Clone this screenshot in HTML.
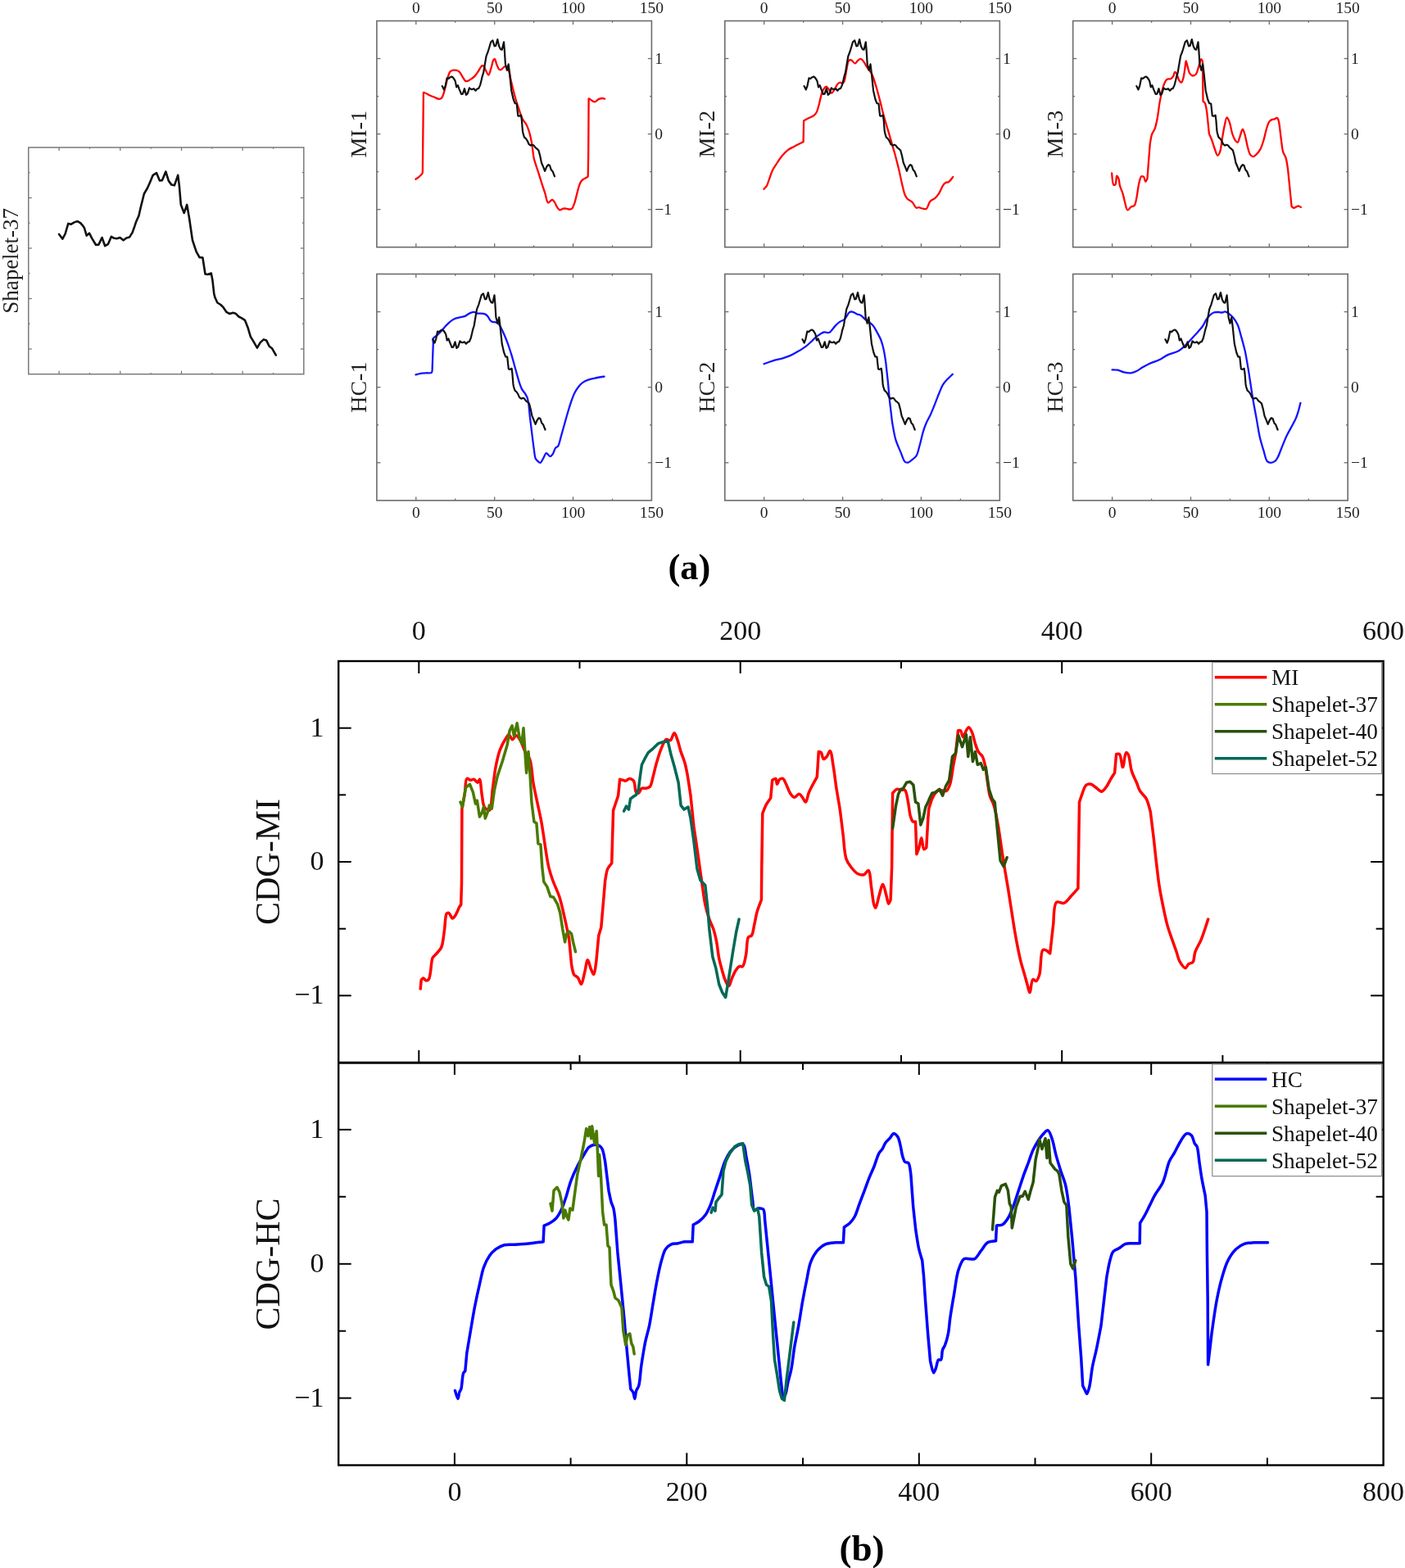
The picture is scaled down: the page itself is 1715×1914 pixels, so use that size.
<!DOCTYPE html>
<html><head><meta charset="utf-8"><title>Figure</title>
<style>html,body{margin:0;padding:0;background:#fff;}body{width:1715px;height:1914px;overflow:hidden;}svg{display:block;}</style>
</head><body>
<svg width="1715" height="1914" viewBox="0 0 1715 1914" font-family="'Liberation Serif', 'Times New Roman', serif">
<rect x="0" y="0" width="1715" height="1914" fill="#fff"/>
<line x1="72.1" y1="180" x2="72.1" y2="184" stroke="#6e6e6e" stroke-width="1.2"/>
<line x1="72.1" y1="456.7" x2="72.1" y2="452.7" stroke="#6e6e6e" stroke-width="1.2"/>
<line x1="109.5" y1="180" x2="109.5" y2="181.8" stroke="#6e6e6e" stroke-width="1.2"/>
<line x1="109.5" y1="456.7" x2="109.5" y2="454.9" stroke="#6e6e6e" stroke-width="1.2"/>
<line x1="146.8" y1="180" x2="146.8" y2="184" stroke="#6e6e6e" stroke-width="1.2"/>
<line x1="146.8" y1="456.7" x2="146.8" y2="452.7" stroke="#6e6e6e" stroke-width="1.2"/>
<line x1="184.1" y1="180" x2="184.1" y2="181.8" stroke="#6e6e6e" stroke-width="1.2"/>
<line x1="184.1" y1="456.7" x2="184.1" y2="454.9" stroke="#6e6e6e" stroke-width="1.2"/>
<line x1="221.5" y1="180" x2="221.5" y2="184" stroke="#6e6e6e" stroke-width="1.2"/>
<line x1="221.5" y1="456.7" x2="221.5" y2="452.7" stroke="#6e6e6e" stroke-width="1.2"/>
<line x1="258.8" y1="180" x2="258.8" y2="181.8" stroke="#6e6e6e" stroke-width="1.2"/>
<line x1="258.8" y1="456.7" x2="258.8" y2="454.9" stroke="#6e6e6e" stroke-width="1.2"/>
<line x1="296.1" y1="180" x2="296.1" y2="184" stroke="#6e6e6e" stroke-width="1.2"/>
<line x1="296.1" y1="456.7" x2="296.1" y2="452.7" stroke="#6e6e6e" stroke-width="1.2"/>
<line x1="333.5" y1="180" x2="333.5" y2="181.8" stroke="#6e6e6e" stroke-width="1.2"/>
<line x1="333.5" y1="456.7" x2="333.5" y2="454.9" stroke="#6e6e6e" stroke-width="1.2"/>
<line x1="34.8" y1="210.7" x2="36.6" y2="210.7" stroke="#6e6e6e" stroke-width="1.2"/>
<line x1="370.8" y1="210.7" x2="369" y2="210.7" stroke="#6e6e6e" stroke-width="1.2"/>
<line x1="34.8" y1="241.5" x2="38.8" y2="241.5" stroke="#6e6e6e" stroke-width="1.2"/>
<line x1="370.8" y1="241.5" x2="366.8" y2="241.5" stroke="#6e6e6e" stroke-width="1.2"/>
<line x1="34.8" y1="272.2" x2="36.6" y2="272.2" stroke="#6e6e6e" stroke-width="1.2"/>
<line x1="370.8" y1="272.2" x2="369" y2="272.2" stroke="#6e6e6e" stroke-width="1.2"/>
<line x1="34.8" y1="303" x2="38.8" y2="303" stroke="#6e6e6e" stroke-width="1.2"/>
<line x1="370.8" y1="303" x2="366.8" y2="303" stroke="#6e6e6e" stroke-width="1.2"/>
<line x1="34.8" y1="333.7" x2="36.6" y2="333.7" stroke="#6e6e6e" stroke-width="1.2"/>
<line x1="370.8" y1="333.7" x2="369" y2="333.7" stroke="#6e6e6e" stroke-width="1.2"/>
<line x1="34.8" y1="364.5" x2="38.8" y2="364.5" stroke="#6e6e6e" stroke-width="1.2"/>
<line x1="370.8" y1="364.5" x2="366.8" y2="364.5" stroke="#6e6e6e" stroke-width="1.2"/>
<line x1="34.8" y1="395.2" x2="36.6" y2="395.2" stroke="#6e6e6e" stroke-width="1.2"/>
<line x1="370.8" y1="395.2" x2="369" y2="395.2" stroke="#6e6e6e" stroke-width="1.2"/>
<line x1="34.8" y1="426" x2="38.8" y2="426" stroke="#6e6e6e" stroke-width="1.2"/>
<line x1="370.8" y1="426" x2="366.8" y2="426" stroke="#6e6e6e" stroke-width="1.2"/>
<rect x="34.8" y="180" width="336" height="276.7" fill="none" stroke="#7a7a7a" stroke-width="1.5"/>
<text x="21.8" y="318.4" font-size="27" text-anchor="middle" fill="#1e1e1e" font-weight="normal" transform="rotate(-90 21.8 318.4)">Shapelet-37</text>
<line x1="507.8" y1="25.5" x2="507.8" y2="30" stroke="#6c6c6c" stroke-width="1.3"/>
<line x1="507.8" y1="301.7" x2="507.8" y2="297.2" stroke="#6c6c6c" stroke-width="1.3"/>
<line x1="555.8" y1="25.5" x2="555.8" y2="27.8" stroke="#6c6c6c" stroke-width="1.3"/>
<line x1="555.8" y1="301.7" x2="555.8" y2="299.4" stroke="#6c6c6c" stroke-width="1.3"/>
<line x1="603.7" y1="25.5" x2="603.7" y2="30" stroke="#6c6c6c" stroke-width="1.3"/>
<line x1="603.7" y1="301.7" x2="603.7" y2="297.2" stroke="#6c6c6c" stroke-width="1.3"/>
<line x1="651.6" y1="25.5" x2="651.6" y2="27.8" stroke="#6c6c6c" stroke-width="1.3"/>
<line x1="651.6" y1="301.7" x2="651.6" y2="299.4" stroke="#6c6c6c" stroke-width="1.3"/>
<line x1="699.5" y1="25.5" x2="699.5" y2="30" stroke="#6c6c6c" stroke-width="1.3"/>
<line x1="699.5" y1="301.7" x2="699.5" y2="297.2" stroke="#6c6c6c" stroke-width="1.3"/>
<line x1="747.5" y1="25.5" x2="747.5" y2="27.8" stroke="#6c6c6c" stroke-width="1.3"/>
<line x1="747.5" y1="301.7" x2="747.5" y2="299.4" stroke="#6c6c6c" stroke-width="1.3"/>
<line x1="459.9" y1="255.7" x2="464.5" y2="255.7" stroke="#6c6c6c" stroke-width="1.3"/>
<line x1="795.4" y1="255.7" x2="790.8" y2="255.7" stroke="#6c6c6c" stroke-width="1.3"/>
<line x1="459.9" y1="209.6" x2="462.2" y2="209.6" stroke="#6c6c6c" stroke-width="1.3"/>
<line x1="795.4" y1="209.6" x2="793.1" y2="209.6" stroke="#6c6c6c" stroke-width="1.3"/>
<line x1="459.9" y1="163.6" x2="464.5" y2="163.6" stroke="#6c6c6c" stroke-width="1.3"/>
<line x1="795.4" y1="163.6" x2="790.8" y2="163.6" stroke="#6c6c6c" stroke-width="1.3"/>
<line x1="459.9" y1="117.6" x2="462.2" y2="117.6" stroke="#6c6c6c" stroke-width="1.3"/>
<line x1="795.4" y1="117.6" x2="793.1" y2="117.6" stroke="#6c6c6c" stroke-width="1.3"/>
<line x1="459.9" y1="71.5" x2="464.5" y2="71.5" stroke="#6c6c6c" stroke-width="1.3"/>
<line x1="795.4" y1="71.5" x2="790.8" y2="71.5" stroke="#6c6c6c" stroke-width="1.3"/>
<rect x="459.9" y="25.5" width="335.5" height="276.2" fill="none" stroke="#6c6c6c" stroke-width="1.6"/>
<text x="507.8" y="15.8" font-size="19.5" text-anchor="middle" fill="#1e1e1e" font-weight="normal">0</text>
<text x="603.7" y="15.8" font-size="19.5" text-anchor="middle" fill="#1e1e1e" font-weight="normal">50</text>
<text x="699.5" y="15.8" font-size="19.5" text-anchor="middle" fill="#1e1e1e" font-weight="normal">100</text>
<text x="795.4" y="15.8" font-size="19.5" text-anchor="middle" fill="#1e1e1e" font-weight="normal">150</text>
<text x="799.2" y="78.1" font-size="19.5" text-anchor="start" fill="#1e1e1e" font-weight="normal">1</text>
<text x="799.2" y="170.2" font-size="19.5" text-anchor="start" fill="#1e1e1e" font-weight="normal">0</text>
<text x="799.2" y="262.3" font-size="19.5" text-anchor="start" fill="#1e1e1e" font-weight="normal">−1</text>
<text x="447.3" y="163.6" font-size="28" text-anchor="middle" fill="#1e1e1e" font-weight="normal" transform="rotate(-90 447.3 163.6)">MI-1</text>
<line x1="932.7" y1="25.5" x2="932.7" y2="30" stroke="#6c6c6c" stroke-width="1.3"/>
<line x1="932.7" y1="301.7" x2="932.7" y2="297.2" stroke="#6c6c6c" stroke-width="1.3"/>
<line x1="980.7" y1="25.5" x2="980.7" y2="27.8" stroke="#6c6c6c" stroke-width="1.3"/>
<line x1="980.7" y1="301.7" x2="980.7" y2="299.4" stroke="#6c6c6c" stroke-width="1.3"/>
<line x1="1028.6" y1="25.5" x2="1028.6" y2="30" stroke="#6c6c6c" stroke-width="1.3"/>
<line x1="1028.6" y1="301.7" x2="1028.6" y2="297.2" stroke="#6c6c6c" stroke-width="1.3"/>
<line x1="1076.5" y1="25.5" x2="1076.5" y2="27.8" stroke="#6c6c6c" stroke-width="1.3"/>
<line x1="1076.5" y1="301.7" x2="1076.5" y2="299.4" stroke="#6c6c6c" stroke-width="1.3"/>
<line x1="1124.4" y1="25.5" x2="1124.4" y2="30" stroke="#6c6c6c" stroke-width="1.3"/>
<line x1="1124.4" y1="301.7" x2="1124.4" y2="297.2" stroke="#6c6c6c" stroke-width="1.3"/>
<line x1="1172.4" y1="25.5" x2="1172.4" y2="27.8" stroke="#6c6c6c" stroke-width="1.3"/>
<line x1="1172.4" y1="301.7" x2="1172.4" y2="299.4" stroke="#6c6c6c" stroke-width="1.3"/>
<line x1="884.8" y1="255.7" x2="889.4" y2="255.7" stroke="#6c6c6c" stroke-width="1.3"/>
<line x1="1220.3" y1="255.7" x2="1215.7" y2="255.7" stroke="#6c6c6c" stroke-width="1.3"/>
<line x1="884.8" y1="209.6" x2="887.1" y2="209.6" stroke="#6c6c6c" stroke-width="1.3"/>
<line x1="1220.3" y1="209.6" x2="1218" y2="209.6" stroke="#6c6c6c" stroke-width="1.3"/>
<line x1="884.8" y1="163.6" x2="889.4" y2="163.6" stroke="#6c6c6c" stroke-width="1.3"/>
<line x1="1220.3" y1="163.6" x2="1215.7" y2="163.6" stroke="#6c6c6c" stroke-width="1.3"/>
<line x1="884.8" y1="117.6" x2="887.1" y2="117.6" stroke="#6c6c6c" stroke-width="1.3"/>
<line x1="1220.3" y1="117.6" x2="1218" y2="117.6" stroke="#6c6c6c" stroke-width="1.3"/>
<line x1="884.8" y1="71.5" x2="889.4" y2="71.5" stroke="#6c6c6c" stroke-width="1.3"/>
<line x1="1220.3" y1="71.5" x2="1215.7" y2="71.5" stroke="#6c6c6c" stroke-width="1.3"/>
<rect x="884.8" y="25.5" width="335.5" height="276.2" fill="none" stroke="#6c6c6c" stroke-width="1.6"/>
<text x="932.7" y="15.8" font-size="19.5" text-anchor="middle" fill="#1e1e1e" font-weight="normal">0</text>
<text x="1028.6" y="15.8" font-size="19.5" text-anchor="middle" fill="#1e1e1e" font-weight="normal">50</text>
<text x="1124.4" y="15.8" font-size="19.5" text-anchor="middle" fill="#1e1e1e" font-weight="normal">100</text>
<text x="1220.3" y="15.8" font-size="19.5" text-anchor="middle" fill="#1e1e1e" font-weight="normal">150</text>
<text x="1224.1" y="78.1" font-size="19.5" text-anchor="start" fill="#1e1e1e" font-weight="normal">1</text>
<text x="1224.1" y="170.2" font-size="19.5" text-anchor="start" fill="#1e1e1e" font-weight="normal">0</text>
<text x="1224.1" y="262.3" font-size="19.5" text-anchor="start" fill="#1e1e1e" font-weight="normal">−1</text>
<text x="872.2" y="163.6" font-size="28" text-anchor="middle" fill="#1e1e1e" font-weight="normal" transform="rotate(-90 872.2 163.6)">MI-2</text>
<line x1="1357.6" y1="25.5" x2="1357.6" y2="30" stroke="#6c6c6c" stroke-width="1.3"/>
<line x1="1357.6" y1="301.7" x2="1357.6" y2="297.2" stroke="#6c6c6c" stroke-width="1.3"/>
<line x1="1405.6" y1="25.5" x2="1405.6" y2="27.8" stroke="#6c6c6c" stroke-width="1.3"/>
<line x1="1405.6" y1="301.7" x2="1405.6" y2="299.4" stroke="#6c6c6c" stroke-width="1.3"/>
<line x1="1453.5" y1="25.5" x2="1453.5" y2="30" stroke="#6c6c6c" stroke-width="1.3"/>
<line x1="1453.5" y1="301.7" x2="1453.5" y2="297.2" stroke="#6c6c6c" stroke-width="1.3"/>
<line x1="1501.4" y1="25.5" x2="1501.4" y2="27.8" stroke="#6c6c6c" stroke-width="1.3"/>
<line x1="1501.4" y1="301.7" x2="1501.4" y2="299.4" stroke="#6c6c6c" stroke-width="1.3"/>
<line x1="1549.3" y1="25.5" x2="1549.3" y2="30" stroke="#6c6c6c" stroke-width="1.3"/>
<line x1="1549.3" y1="301.7" x2="1549.3" y2="297.2" stroke="#6c6c6c" stroke-width="1.3"/>
<line x1="1597.3" y1="25.5" x2="1597.3" y2="27.8" stroke="#6c6c6c" stroke-width="1.3"/>
<line x1="1597.3" y1="301.7" x2="1597.3" y2="299.4" stroke="#6c6c6c" stroke-width="1.3"/>
<line x1="1309.7" y1="255.7" x2="1314.3" y2="255.7" stroke="#6c6c6c" stroke-width="1.3"/>
<line x1="1645.2" y1="255.7" x2="1640.6" y2="255.7" stroke="#6c6c6c" stroke-width="1.3"/>
<line x1="1309.7" y1="209.6" x2="1312" y2="209.6" stroke="#6c6c6c" stroke-width="1.3"/>
<line x1="1645.2" y1="209.6" x2="1642.9" y2="209.6" stroke="#6c6c6c" stroke-width="1.3"/>
<line x1="1309.7" y1="163.6" x2="1314.3" y2="163.6" stroke="#6c6c6c" stroke-width="1.3"/>
<line x1="1645.2" y1="163.6" x2="1640.6" y2="163.6" stroke="#6c6c6c" stroke-width="1.3"/>
<line x1="1309.7" y1="117.6" x2="1312" y2="117.6" stroke="#6c6c6c" stroke-width="1.3"/>
<line x1="1645.2" y1="117.6" x2="1642.9" y2="117.6" stroke="#6c6c6c" stroke-width="1.3"/>
<line x1="1309.7" y1="71.5" x2="1314.3" y2="71.5" stroke="#6c6c6c" stroke-width="1.3"/>
<line x1="1645.2" y1="71.5" x2="1640.6" y2="71.5" stroke="#6c6c6c" stroke-width="1.3"/>
<rect x="1309.7" y="25.5" width="335.5" height="276.2" fill="none" stroke="#6c6c6c" stroke-width="1.6"/>
<text x="1357.6" y="15.8" font-size="19.5" text-anchor="middle" fill="#1e1e1e" font-weight="normal">0</text>
<text x="1453.5" y="15.8" font-size="19.5" text-anchor="middle" fill="#1e1e1e" font-weight="normal">50</text>
<text x="1549.3" y="15.8" font-size="19.5" text-anchor="middle" fill="#1e1e1e" font-weight="normal">100</text>
<text x="1645.2" y="15.8" font-size="19.5" text-anchor="middle" fill="#1e1e1e" font-weight="normal">150</text>
<text x="1649" y="78.1" font-size="19.5" text-anchor="start" fill="#1e1e1e" font-weight="normal">1</text>
<text x="1649" y="170.2" font-size="19.5" text-anchor="start" fill="#1e1e1e" font-weight="normal">0</text>
<text x="1649" y="262.3" font-size="19.5" text-anchor="start" fill="#1e1e1e" font-weight="normal">−1</text>
<text x="1297.1" y="163.6" font-size="28" text-anchor="middle" fill="#1e1e1e" font-weight="normal" transform="rotate(-90 1297.1 163.6)">MI-3</text>
<line x1="507.8" y1="334.5" x2="507.8" y2="339" stroke="#6c6c6c" stroke-width="1.3"/>
<line x1="507.8" y1="610.9" x2="507.8" y2="606.4" stroke="#6c6c6c" stroke-width="1.3"/>
<line x1="555.8" y1="334.5" x2="555.8" y2="336.8" stroke="#6c6c6c" stroke-width="1.3"/>
<line x1="555.8" y1="610.9" x2="555.8" y2="608.6" stroke="#6c6c6c" stroke-width="1.3"/>
<line x1="603.7" y1="334.5" x2="603.7" y2="339" stroke="#6c6c6c" stroke-width="1.3"/>
<line x1="603.7" y1="610.9" x2="603.7" y2="606.4" stroke="#6c6c6c" stroke-width="1.3"/>
<line x1="651.6" y1="334.5" x2="651.6" y2="336.8" stroke="#6c6c6c" stroke-width="1.3"/>
<line x1="651.6" y1="610.9" x2="651.6" y2="608.6" stroke="#6c6c6c" stroke-width="1.3"/>
<line x1="699.5" y1="334.5" x2="699.5" y2="339" stroke="#6c6c6c" stroke-width="1.3"/>
<line x1="699.5" y1="610.9" x2="699.5" y2="606.4" stroke="#6c6c6c" stroke-width="1.3"/>
<line x1="747.5" y1="334.5" x2="747.5" y2="336.8" stroke="#6c6c6c" stroke-width="1.3"/>
<line x1="747.5" y1="610.9" x2="747.5" y2="608.6" stroke="#6c6c6c" stroke-width="1.3"/>
<line x1="459.9" y1="564.8" x2="464.5" y2="564.8" stroke="#6c6c6c" stroke-width="1.3"/>
<line x1="795.4" y1="564.8" x2="790.8" y2="564.8" stroke="#6c6c6c" stroke-width="1.3"/>
<line x1="459.9" y1="518.8" x2="462.2" y2="518.8" stroke="#6c6c6c" stroke-width="1.3"/>
<line x1="795.4" y1="518.8" x2="793.1" y2="518.8" stroke="#6c6c6c" stroke-width="1.3"/>
<line x1="459.9" y1="472.7" x2="464.5" y2="472.7" stroke="#6c6c6c" stroke-width="1.3"/>
<line x1="795.4" y1="472.7" x2="790.8" y2="472.7" stroke="#6c6c6c" stroke-width="1.3"/>
<line x1="459.9" y1="426.6" x2="462.2" y2="426.6" stroke="#6c6c6c" stroke-width="1.3"/>
<line x1="795.4" y1="426.6" x2="793.1" y2="426.6" stroke="#6c6c6c" stroke-width="1.3"/>
<line x1="459.9" y1="380.6" x2="464.5" y2="380.6" stroke="#6c6c6c" stroke-width="1.3"/>
<line x1="795.4" y1="380.6" x2="790.8" y2="380.6" stroke="#6c6c6c" stroke-width="1.3"/>
<rect x="459.9" y="334.5" width="335.5" height="276.4" fill="none" stroke="#6c6c6c" stroke-width="1.6"/>
<text x="507.8" y="632.2" font-size="19.5" text-anchor="middle" fill="#1e1e1e" font-weight="normal">0</text>
<text x="603.7" y="632.2" font-size="19.5" text-anchor="middle" fill="#1e1e1e" font-weight="normal">50</text>
<text x="699.5" y="632.2" font-size="19.5" text-anchor="middle" fill="#1e1e1e" font-weight="normal">100</text>
<text x="795.4" y="632.2" font-size="19.5" text-anchor="middle" fill="#1e1e1e" font-weight="normal">150</text>
<text x="799.2" y="387.2" font-size="19.5" text-anchor="start" fill="#1e1e1e" font-weight="normal">1</text>
<text x="799.2" y="479.3" font-size="19.5" text-anchor="start" fill="#1e1e1e" font-weight="normal">0</text>
<text x="799.2" y="571.4" font-size="19.5" text-anchor="start" fill="#1e1e1e" font-weight="normal">−1</text>
<text x="447.3" y="472.7" font-size="28" text-anchor="middle" fill="#1e1e1e" font-weight="normal" transform="rotate(-90 447.3 472.7)">HC-1</text>
<line x1="932.7" y1="334.5" x2="932.7" y2="339" stroke="#6c6c6c" stroke-width="1.3"/>
<line x1="932.7" y1="610.9" x2="932.7" y2="606.4" stroke="#6c6c6c" stroke-width="1.3"/>
<line x1="980.7" y1="334.5" x2="980.7" y2="336.8" stroke="#6c6c6c" stroke-width="1.3"/>
<line x1="980.7" y1="610.9" x2="980.7" y2="608.6" stroke="#6c6c6c" stroke-width="1.3"/>
<line x1="1028.6" y1="334.5" x2="1028.6" y2="339" stroke="#6c6c6c" stroke-width="1.3"/>
<line x1="1028.6" y1="610.9" x2="1028.6" y2="606.4" stroke="#6c6c6c" stroke-width="1.3"/>
<line x1="1076.5" y1="334.5" x2="1076.5" y2="336.8" stroke="#6c6c6c" stroke-width="1.3"/>
<line x1="1076.5" y1="610.9" x2="1076.5" y2="608.6" stroke="#6c6c6c" stroke-width="1.3"/>
<line x1="1124.4" y1="334.5" x2="1124.4" y2="339" stroke="#6c6c6c" stroke-width="1.3"/>
<line x1="1124.4" y1="610.9" x2="1124.4" y2="606.4" stroke="#6c6c6c" stroke-width="1.3"/>
<line x1="1172.4" y1="334.5" x2="1172.4" y2="336.8" stroke="#6c6c6c" stroke-width="1.3"/>
<line x1="1172.4" y1="610.9" x2="1172.4" y2="608.6" stroke="#6c6c6c" stroke-width="1.3"/>
<line x1="884.8" y1="564.8" x2="889.4" y2="564.8" stroke="#6c6c6c" stroke-width="1.3"/>
<line x1="1220.3" y1="564.8" x2="1215.7" y2="564.8" stroke="#6c6c6c" stroke-width="1.3"/>
<line x1="884.8" y1="518.8" x2="887.1" y2="518.8" stroke="#6c6c6c" stroke-width="1.3"/>
<line x1="1220.3" y1="518.8" x2="1218" y2="518.8" stroke="#6c6c6c" stroke-width="1.3"/>
<line x1="884.8" y1="472.7" x2="889.4" y2="472.7" stroke="#6c6c6c" stroke-width="1.3"/>
<line x1="1220.3" y1="472.7" x2="1215.7" y2="472.7" stroke="#6c6c6c" stroke-width="1.3"/>
<line x1="884.8" y1="426.6" x2="887.1" y2="426.6" stroke="#6c6c6c" stroke-width="1.3"/>
<line x1="1220.3" y1="426.6" x2="1218" y2="426.6" stroke="#6c6c6c" stroke-width="1.3"/>
<line x1="884.8" y1="380.6" x2="889.4" y2="380.6" stroke="#6c6c6c" stroke-width="1.3"/>
<line x1="1220.3" y1="380.6" x2="1215.7" y2="380.6" stroke="#6c6c6c" stroke-width="1.3"/>
<rect x="884.8" y="334.5" width="335.5" height="276.4" fill="none" stroke="#6c6c6c" stroke-width="1.6"/>
<text x="932.7" y="632.2" font-size="19.5" text-anchor="middle" fill="#1e1e1e" font-weight="normal">0</text>
<text x="1028.6" y="632.2" font-size="19.5" text-anchor="middle" fill="#1e1e1e" font-weight="normal">50</text>
<text x="1124.4" y="632.2" font-size="19.5" text-anchor="middle" fill="#1e1e1e" font-weight="normal">100</text>
<text x="1220.3" y="632.2" font-size="19.5" text-anchor="middle" fill="#1e1e1e" font-weight="normal">150</text>
<text x="1224.1" y="387.2" font-size="19.5" text-anchor="start" fill="#1e1e1e" font-weight="normal">1</text>
<text x="1224.1" y="479.3" font-size="19.5" text-anchor="start" fill="#1e1e1e" font-weight="normal">0</text>
<text x="1224.1" y="571.4" font-size="19.5" text-anchor="start" fill="#1e1e1e" font-weight="normal">−1</text>
<text x="872.2" y="472.7" font-size="28" text-anchor="middle" fill="#1e1e1e" font-weight="normal" transform="rotate(-90 872.2 472.7)">HC-2</text>
<line x1="1357.6" y1="334.5" x2="1357.6" y2="339" stroke="#6c6c6c" stroke-width="1.3"/>
<line x1="1357.6" y1="610.9" x2="1357.6" y2="606.4" stroke="#6c6c6c" stroke-width="1.3"/>
<line x1="1405.6" y1="334.5" x2="1405.6" y2="336.8" stroke="#6c6c6c" stroke-width="1.3"/>
<line x1="1405.6" y1="610.9" x2="1405.6" y2="608.6" stroke="#6c6c6c" stroke-width="1.3"/>
<line x1="1453.5" y1="334.5" x2="1453.5" y2="339" stroke="#6c6c6c" stroke-width="1.3"/>
<line x1="1453.5" y1="610.9" x2="1453.5" y2="606.4" stroke="#6c6c6c" stroke-width="1.3"/>
<line x1="1501.4" y1="334.5" x2="1501.4" y2="336.8" stroke="#6c6c6c" stroke-width="1.3"/>
<line x1="1501.4" y1="610.9" x2="1501.4" y2="608.6" stroke="#6c6c6c" stroke-width="1.3"/>
<line x1="1549.3" y1="334.5" x2="1549.3" y2="339" stroke="#6c6c6c" stroke-width="1.3"/>
<line x1="1549.3" y1="610.9" x2="1549.3" y2="606.4" stroke="#6c6c6c" stroke-width="1.3"/>
<line x1="1597.3" y1="334.5" x2="1597.3" y2="336.8" stroke="#6c6c6c" stroke-width="1.3"/>
<line x1="1597.3" y1="610.9" x2="1597.3" y2="608.6" stroke="#6c6c6c" stroke-width="1.3"/>
<line x1="1309.7" y1="564.8" x2="1314.3" y2="564.8" stroke="#6c6c6c" stroke-width="1.3"/>
<line x1="1645.2" y1="564.8" x2="1640.6" y2="564.8" stroke="#6c6c6c" stroke-width="1.3"/>
<line x1="1309.7" y1="518.8" x2="1312" y2="518.8" stroke="#6c6c6c" stroke-width="1.3"/>
<line x1="1645.2" y1="518.8" x2="1642.9" y2="518.8" stroke="#6c6c6c" stroke-width="1.3"/>
<line x1="1309.7" y1="472.7" x2="1314.3" y2="472.7" stroke="#6c6c6c" stroke-width="1.3"/>
<line x1="1645.2" y1="472.7" x2="1640.6" y2="472.7" stroke="#6c6c6c" stroke-width="1.3"/>
<line x1="1309.7" y1="426.6" x2="1312" y2="426.6" stroke="#6c6c6c" stroke-width="1.3"/>
<line x1="1645.2" y1="426.6" x2="1642.9" y2="426.6" stroke="#6c6c6c" stroke-width="1.3"/>
<line x1="1309.7" y1="380.6" x2="1314.3" y2="380.6" stroke="#6c6c6c" stroke-width="1.3"/>
<line x1="1645.2" y1="380.6" x2="1640.6" y2="380.6" stroke="#6c6c6c" stroke-width="1.3"/>
<rect x="1309.7" y="334.5" width="335.5" height="276.4" fill="none" stroke="#6c6c6c" stroke-width="1.6"/>
<text x="1357.6" y="632.2" font-size="19.5" text-anchor="middle" fill="#1e1e1e" font-weight="normal">0</text>
<text x="1453.5" y="632.2" font-size="19.5" text-anchor="middle" fill="#1e1e1e" font-weight="normal">50</text>
<text x="1549.3" y="632.2" font-size="19.5" text-anchor="middle" fill="#1e1e1e" font-weight="normal">100</text>
<text x="1645.2" y="632.2" font-size="19.5" text-anchor="middle" fill="#1e1e1e" font-weight="normal">150</text>
<text x="1649" y="387.2" font-size="19.5" text-anchor="start" fill="#1e1e1e" font-weight="normal">1</text>
<text x="1649" y="479.3" font-size="19.5" text-anchor="start" fill="#1e1e1e" font-weight="normal">0</text>
<text x="1649" y="571.4" font-size="19.5" text-anchor="start" fill="#1e1e1e" font-weight="normal">−1</text>
<text x="1297.1" y="472.7" font-size="28" text-anchor="middle" fill="#1e1e1e" font-weight="normal" transform="rotate(-90 1297.1 472.7)">HC-3</text>
<polyline points="72.1,285.9 76.3,291.6 79.6,285.5 83.3,272.9 86.9,273.7 90.2,271.6 93.5,270.4 95.1,270.4 98.4,272.4 101.6,276.1 102.9,278.2 105.7,287.6 109,284.7 112.2,290.8 117.1,299 120.4,298.6 124.5,290 128.2,300.2 131.8,298.2 135.9,288.8 138.4,290.4 142.4,291.2 146.5,290 150.6,293.3 154.3,290.4 158,289.6 161.6,283.9 164.5,275.7 166.1,270.8 169.4,263.5 171.8,252.9 175.9,236.5 180,229.5 183.1,222.4 186.7,213.8 191,211.1 194.9,220.5 198,220.1 202.3,209.5 205.9,220.9 209.4,225.6 212.9,226.3 217.2,213.8 218.8,226.3 220.8,249.9 224.7,260 228.2,249.9 230.9,265.5 234.9,293 239.6,307.1 243.5,314.1 247.4,314.5 250.5,334.5 253.4,335 257.8,333.5 259.4,341.9 261.3,358.9 262.5,363.3 265.4,369.5 269.4,372 272.6,375.2 276.3,380.8 280.4,383 284.5,381.8 287.6,382.7 291.4,386.5 295.1,388.3 298.9,390.8 302.7,400.3 305.8,410.9 309.6,417.2 313.9,424.7 317.7,418.1 321.8,414.4 325.2,415.6 328.7,422.8 332.1,425.3 336.8,433.5" fill="none" stroke="#111" stroke-width="2.6" stroke-linejoin="round" stroke-linecap="round"/>
<path d="M507.4,218.7 C508,218.3 509.7,217.3 510.9,216.3 C512.4,215.1 514.6,213.3 515.4,211.8 C515.9,210.8 515.8,209.3 515.9,208.8 L516.9,113 C517.1,113 517.4,112.9 517.9,113 C519.2,113.3 522.7,115.5 524.8,116.5 C526.6,117.3 528,117.8 529.8,118.5 C531.8,119.3 534.5,121 536.2,120.9 C537.4,120.8 538.4,120.3 539.2,119.4 C540.4,118.2 540.9,115.8 541.7,113.5 C542.8,110.3 543.7,105.3 544.7,101.6 C545.6,98.4 546.2,95.2 547.2,92.6 C548,90.5 548.5,88.3 549.7,87.2 C550.7,86.2 552.2,85.9 553.6,85.7 C555.1,85.5 557.2,85.6 558.6,86.2 C559.8,86.7 560.7,87.6 561.6,88.7 C562.7,90 563.4,91.9 564.5,93.6 C565.7,95.4 567.1,98.5 568.5,99.1 C569.5,99.5 570.5,99 571.5,98.6 C572.8,98.1 574.2,97 575.5,96.1 C576.8,95.2 578.2,94.3 579.4,93.1 C580.8,91.6 582.2,89.5 583.4,87.7 C584.5,86 585.5,84.1 586.4,82.7 C587.1,81.7 587.6,80.5 588.4,80.2 C589,80 589.8,80.2 590.4,80.7 C591.3,81.4 591.6,83.2 592.4,84.7 C593.5,86.7 595.2,91.7 596.3,91.6 C597.5,91.5 598.4,86.5 599.3,83.7 C600.4,80.5 601.2,75.1 602.3,73.3 C602.8,72.5 603.3,71.7 603.8,71.8 C604.7,72 605.4,76.5 606.3,78.7 C607.2,80.8 608.1,83.8 609.2,84.7 C609.8,85.2 610.4,85.4 611.2,85.2 C612.6,84.9 614.8,81.5 616.2,81.2 C617,81 617.6,81.2 618.2,81.7 C619.3,82.5 620.4,84.7 621.2,86.7 C622.2,89.2 622.4,92.3 623.1,95.6 C624,99.6 625.1,104.5 626.2,108.9 C627.3,113.3 628.6,118 629.8,122.2 C630.9,126 632,129.2 633.3,132.9 C634.7,136.9 636.1,142 637.8,145.3 C639.1,147.8 640.9,149.2 642.2,151.5 C643.6,154.1 644.8,157.3 645.8,160.4 C646.9,163.8 647.7,167.5 648.4,171.1 C649.1,174.8 649.7,178.9 650.2,182.6 C650.7,186 650.9,189.3 651.5,192.4 C652.1,195.2 652.9,197.6 653.8,200.4 C654.8,203.7 656.1,207.2 657.3,211 C658.7,215.4 660.4,220.9 661.8,225.3 C663,229.1 664.1,232.3 665.3,235.9 C666.5,239.7 667.4,247 668.9,247.5 C669.7,247.8 670.6,246.3 671.5,245.7 C672.4,245.1 673.3,243.8 674.2,243.9 C675.1,244 676.1,245.5 676.9,246.6 C677.9,248 678.5,250.3 679.5,251.9 C680.5,253.5 681.7,255.9 683.1,256.3 C684.4,256.6 686.1,254.9 687.5,254.6 C688.7,254.4 689.8,254.5 691.1,254.6 C692.5,254.7 694.2,255.6 695.5,255.5 C696.5,255.4 697.4,255.3 698.2,254.6 C699.3,253.6 700,251.4 700.8,249.2 C702.1,245.8 703.3,240 704.4,235.9 C705.4,232.4 706.1,228.8 707.1,226.1 C707.9,224 708.6,222.2 709.7,220.8 C710.7,219.6 712,219 713.3,218.1 C714.7,217.2 717,215.9 717.7,215.5 L718.2,188.8 L718.6,120.4 C718.9,120.5 719.7,120.9 720.4,121.3 C721.7,122 723.9,124.4 725.7,124.4 C727.5,124.4 729.2,121.6 731,120.9 C732.5,120.3 734.2,120 735.5,120 C736.5,120 737.7,120.5 738.1,120.6" fill="none" stroke="#ff0000" stroke-width="2.3" stroke-linejoin="round" stroke-linecap="round"/>
<polyline points="539.8,105.1 542,109.4 543.7,104.8 545.6,95.4 547.5,96 549.2,94.5 550.9,93.6 551.7,93.6 553.4,95.1 555.1,97.8 555.8,99.4 557.2,106.4 558.9,104.2 560.6,108.8 563.1,114.9 564.8,114.6 567,108.2 568.9,115.8 570.7,114.3 572.9,107.3 574.2,108.5 576.2,109.1 578.4,108.2 580.5,110.7 582.4,108.5 584.3,107.9 586.2,103.6 587.7,97.5 588.5,93.9 590.2,88.4 591.5,80.5 593.6,68.3 595.7,63 597.3,57.7 599.2,51.3 601.4,49.3 603.5,56.3 605.1,56 607.3,48.1 609.2,56.6 611,60.1 612.8,60.6 615,51.3 615.8,60.6 616.9,78.3 618.9,85.8 620.7,78.3 622.1,89.9 624.2,110.4 626.6,121 628.6,126.2 630.7,126.5 632.3,141.4 633.8,141.8 636.1,140.7 636.9,146.9 637.9,159.6 638.5,162.9 640,167.6 642.1,169.4 643.7,171.8 645.6,176 647.8,177.6 649.9,176.7 651.5,177.4 653.5,180.2 655.4,181.6 657.4,183.5 659.3,190.5 660.9,198.5 662.9,203.2 665.1,208.8 667.1,203.8 669.2,201.1 671,202 672.8,207.3 674.6,209.2 677,215.3" fill="none" stroke="#111" stroke-width="2.2" stroke-linejoin="round" stroke-linecap="round"/>
<path d="M507.5,457.4 C508.3,457.2 510.6,456.4 512.5,456.1 C514.8,455.7 517.7,455.5 520.1,455.3 C522.4,455.1 525.5,455.8 526.7,454.9 C527.5,454.3 527.5,452.4 527.6,451.9 L528.8,418.5 C528.8,417.6 528.1,414.6 528.8,413.1 C529.5,411.5 531.8,410.7 533.4,409.3 C535.3,407.6 537.5,405.4 539.3,403.5 C540.9,401.8 542.1,400 543.5,398.4 C544.8,396.9 546.2,395.6 547.6,394.3 C549,393.1 550.3,391.9 551.8,390.9 C553.3,389.9 555.1,389 556.8,388.4 C558.5,387.8 560.1,387.6 561.9,387.2 C563.8,386.8 566.1,386.6 567.7,385.9 C569,385.4 569.9,384.5 571,383.8 C572.1,383.1 573.2,382.4 574.4,381.9 C575.7,381.4 577.2,380.8 578.6,380.9 C580,381 581.3,382.3 582.7,382.6 C584.1,382.9 585.4,382.5 586.9,382.6 C588.5,382.7 590.5,382.8 591.9,383.4 C593.2,384 594.3,384.8 595.3,385.9 C596.6,387.3 597.4,390.1 598.6,391.3 C599.4,392.1 600.1,392.6 601.1,393 C602.3,393.4 604,393 605.3,393.4 C606.5,393.8 607.7,394.5 608.7,395.5 C610,396.8 610.9,398.9 612,401 C613.4,403.6 614.8,407 616.2,410.2 C617.7,413.6 619.1,417.2 620.4,421 C621.8,425 623.1,429.1 624.5,433.6 C626.1,438.8 627.6,444.9 629.2,450.5 C630.8,456 632.4,462.4 633.9,466.9 C635,470.1 635.8,472.7 637.1,475.1 C638.3,477.3 640.1,478.9 641.2,480.8 C642.2,482.5 643,483.9 643.7,485.7 C644.5,487.9 645,491.9 645.3,493.1 L646.9,509.4 L649.4,529.8 C649.8,532.9 651,543.2 651.8,548.6 C652.4,552.6 652.5,556.8 653.5,559.2 C654.1,560.7 654.9,561.5 655.9,562.4 C656.9,563.4 658.5,565.1 659.6,564.9 C661,564.6 662.1,561.1 663.3,559.2 C664.5,557.2 665.5,553.3 666.9,553.1 C668.2,552.9 670,557.1 671.4,557.1 C672.6,557.1 673.7,555.6 674.7,554.3 C676,552.5 676.7,548.6 678,546.9 C678.9,545.7 680.3,545.8 681.2,544.5 C682.7,542.3 683.4,537.7 684.5,533.9 C685.8,529.4 687.2,524.3 688.6,519.2 C690.2,513.7 691.9,507.3 693.5,502 C694.9,497.4 696.2,493 697.6,489 C698.9,485.5 700.1,482.1 701.6,479.2 C702.9,476.7 704.1,474.7 705.7,472.7 C707.3,470.6 709.3,468.4 711.4,466.9 C713.4,465.5 715.6,464.6 718,463.7 C720.5,462.8 723.1,462.2 726.1,461.6 C729.6,460.8 735.7,459.9 737.6,459.6" fill="none" stroke="#1414ff" stroke-width="2.3" stroke-linejoin="round" stroke-linecap="round"/>
<polyline points="528.3,414.2 530.5,418.5 532.2,413.9 534.1,404.5 536,405.1 537.7,403.5 539.4,402.6 540.2,402.6 541.9,404.1 543.6,406.9 544.3,408.4 545.7,415.5 547.4,413.3 549.1,417.9 551.6,424 553.3,423.7 555.5,417.3 557.4,424.9 559.2,423.4 561.4,416.4 562.7,417.6 564.7,418.2 566.9,417.3 569,419.7 570.9,417.6 572.8,417 574.7,412.7 576.2,406.6 577,402.9 578.7,397.5 580,389.5 582.1,377.3 584.2,372.1 585.8,366.8 587.7,360.3 589.9,358.3 592,365.3 593.6,365 595.8,357.1 597.7,365.6 599.5,369.1 601.3,369.7 603.5,360.3 604.3,369.7 605.4,387.3 607.4,394.8 609.2,387.3 610.6,399 612.7,419.5 615.1,430 617.1,435.3 619.2,435.6 620.8,450.5 622.3,450.9 624.6,449.8 625.4,456 626.4,468.7 627,472 628.5,476.7 630.6,478.5 632.2,480.9 634.1,485.1 636.3,486.7 638.4,485.8 640,486.5 642,489.4 643.9,490.7 645.9,492.6 647.8,499.7 649.4,507.6 651.4,512.3 653.6,517.9 655.6,513 657.7,510.2 659.5,511.1 661.3,516.5 663.1,518.3 665.5,524.5" fill="none" stroke="#111" stroke-width="2.2" stroke-linejoin="round" stroke-linecap="round"/>
<path d="M932.4,230.8 C933,230.1 934.9,228.5 935.9,226.8 C937.2,224.7 937.8,221.7 938.9,218.9 C940.1,215.6 941.3,211.3 942.9,208 C944.3,205 946,202.8 947.8,200 C949.9,196.8 952.4,193 954.8,190.1 C957,187.5 959.2,185 961.7,183.1 C964.1,181.2 966.8,180.2 969.7,178.7 C973,176.9 978.8,174.1 980.6,173.2 L981.1,147.4 C981.7,147.1 983.2,146.2 984.6,145.4 C986.9,144.2 991.4,142.5 993.5,140.9 C994.9,139.8 995.6,139 996.5,137.5 C997.8,135.3 998.5,131.9 999.5,128.5 C1000.7,124.3 1001.8,117.7 1003,114.1 C1003.8,111.8 1004.4,110.2 1005.4,108.7 C1006.3,107.5 1007.4,105.7 1008.4,105.7 C1009.4,105.7 1010.4,107.5 1011.4,108.7 C1012.6,110.1 1013.7,113.5 1014.9,113.6 C1016,113.7 1017.2,111.3 1018.3,109.7 C1019.7,107.8 1020.9,104.2 1022.3,102.7 C1023.3,101.7 1024.3,100.8 1025.3,100.7 C1026.3,100.6 1027.5,101.9 1028.3,101.7 C1029.1,101.5 1029.7,100.8 1030.3,99.7 C1031.6,97.2 1032.2,90.2 1033.2,85.8 C1034.2,81.7 1034.5,75.4 1036.2,73.9 C1037,73.1 1038.2,73.1 1039.2,73.4 C1040.6,73.8 1042.3,77.5 1043.7,77.4 C1044.9,77.4 1045.9,74.8 1047.1,73.9 C1048.2,73 1049.5,71.8 1050.6,71.9 C1051.8,72 1052.9,73.6 1054,75 C1055.6,76.9 1057.2,80.4 1058.9,82.9 C1060.5,85.3 1062.4,87 1063.9,89.9 C1065.9,93.6 1067.3,98.8 1068.9,103.8 C1070.7,109.3 1072.2,115.5 1073.8,121.6 C1075.5,128 1077.1,135.2 1078.8,141.5 C1080.4,147.4 1082.1,152.8 1083.8,158.4 C1085.4,164 1087.2,169.9 1088.7,175.3 C1090.1,180.2 1091.3,184.1 1092.7,189.2 C1094.3,195.2 1096.2,202.6 1097.7,209 C1099.1,215.1 1100.3,221.7 1101.6,226.9 C1102.6,231 1103.4,234.9 1104.6,237.8 C1105.5,239.9 1106.2,241.4 1107.6,242.8 C1109.1,244.4 1111.8,245.1 1113.6,246.8 C1115.5,248.7 1116.8,253 1118.5,253.7 C1119.5,254.1 1120.4,253.1 1121.5,253.2 C1123,253.3 1124.9,254.5 1126.5,254.7 C1128,254.9 1129.6,255.5 1130.9,254.7 C1132.8,253.5 1133.4,248 1135.4,245.8 C1137.1,243.9 1139.6,243.4 1141.4,241.8 C1143.3,240.1 1144.8,238.1 1146.3,235.8 C1148.1,233 1149.7,228.2 1151.3,225.9 C1152.3,224.5 1153.1,223.6 1154.3,222.9 C1155.4,222.3 1156.9,222.7 1158.2,221.9 C1159.9,220.8 1162.4,217 1163.2,216" fill="none" stroke="#ff0000" stroke-width="2.3" stroke-linejoin="round" stroke-linecap="round"/>
<polyline points="981.6,105.1 983.8,109.4 985.5,104.8 987.4,95.4 989.3,96 991,94.5 992.7,93.6 993.5,93.6 995.2,95.1 996.9,97.8 997.6,99.4 999,106.4 1000.7,104.2 1002.4,108.8 1004.9,114.9 1006.6,114.6 1008.8,108.2 1010.7,115.8 1012.5,114.3 1014.7,107.3 1016,108.5 1018,109.1 1020.2,108.2 1022.3,110.7 1024.2,108.5 1026.1,107.9 1028,103.6 1029.5,97.5 1030.3,93.9 1032,88.4 1033.3,80.5 1035.4,68.3 1037.5,63 1039.1,57.7 1041,51.3 1043.2,49.3 1045.3,56.3 1046.9,56 1049.1,48.1 1051,56.6 1052.8,60.1 1054.6,60.6 1056.8,51.3 1057.6,60.6 1058.7,78.3 1060.7,85.8 1062.5,78.3 1063.9,89.9 1066,110.4 1068.4,121 1070.4,126.2 1072.5,126.5 1074.1,141.4 1075.6,141.8 1077.9,140.7 1078.7,146.9 1079.7,159.6 1080.3,162.9 1081.8,167.6 1083.9,169.4 1085.5,171.8 1087.4,176 1089.6,177.6 1091.7,176.7 1093.3,177.4 1095.3,180.2 1097.2,181.6 1099.2,183.5 1101.1,190.5 1102.7,198.5 1104.7,203.2 1106.9,208.8 1108.9,203.8 1111,201.1 1112.8,202 1114.6,207.3 1116.4,209.2 1118.8,215.3" fill="none" stroke="#111" stroke-width="2.2" stroke-linejoin="round" stroke-linecap="round"/>
<path d="M932.6,444.2 C934.3,443.6 939.2,441.7 942.8,440.6 C946.9,439.3 952.1,438.3 956.1,437.1 C959.4,436.1 962.1,435.2 965,433.9 C968,432.6 970.9,430.9 973.9,429.1 C977.1,427.2 980.7,425 983.6,422.8 C986.2,420.8 988.5,418.6 990.7,416.6 C992.7,414.8 994.2,412.8 996.1,411.3 C997.8,409.9 999.7,408.7 1001.4,407.7 C1002.9,406.8 1004.2,405.8 1005.8,405.5 C1007.7,405.1 1010.5,406.5 1012.1,406 C1013.3,405.6 1013.7,404.7 1014.7,403.7 C1016.2,402.1 1018.2,399 1020.1,397.1 C1021.8,395.4 1023.6,393.8 1025.4,392.6 C1027.1,391.5 1029.2,391.3 1030.7,390 C1032.2,388.7 1033.2,386.2 1034.3,384.6 C1035.2,383.3 1035.8,381.8 1036.9,381.1 C1037.9,380.5 1039.2,380.4 1040.5,380.6 C1042.1,380.9 1044.1,382.6 1045.8,383.3 C1047.4,383.9 1048.8,383.8 1050.4,384.7 C1052.5,385.9 1054.4,388.5 1056.7,390.4 C1059.3,392.5 1062.8,394.2 1065.1,396.7 C1067.3,399.1 1068.6,402.1 1070.3,405.1 C1072.1,408.3 1074.1,411.9 1075.5,415.5 C1076.9,419.2 1077.8,422.8 1078.7,427 C1079.8,431.8 1080.9,440.1 1081.3,442.7 L1083.9,466.7 L1086,489.7 L1089.1,515.8 C1089.8,519.3 1091.4,530.3 1093.3,536.7 C1095,542.4 1097.6,547.6 1099.6,552.4 C1101.4,556.6 1102.6,562.3 1104.8,563.9 C1106.1,564.8 1107.7,564.8 1109,564.4 C1110.5,564 1111.7,562.5 1113.1,561.3 C1114.8,559.9 1117,558.8 1118.4,556.6 C1120.4,553.6 1121.2,548.5 1122.5,544 C1124,538.8 1125.2,532.3 1126.7,527.3 C1128,523.1 1129.3,519.5 1130.9,515.8 C1132.5,512.2 1134.4,509.1 1136.1,505.4 C1137.9,501.4 1139.6,497.1 1141.3,492.8 C1143.1,488.4 1144.9,483.4 1146.6,479.3 C1148,475.9 1149.2,472.5 1150.8,469.9 C1152.1,467.8 1153.2,466.5 1154.9,464.6 C1157,462.2 1161.5,458.1 1162.8,456.8" fill="none" stroke="#1414ff" stroke-width="2.3" stroke-linejoin="round" stroke-linecap="round"/>
<polyline points="979.5,414.2 981.7,418.5 983.4,413.9 985.3,404.5 987.2,405.1 988.9,403.5 990.6,402.6 991.4,402.6 993.1,404.1 994.8,406.9 995.5,408.4 996.9,415.5 998.6,413.3 1000.3,417.9 1002.8,424 1004.5,423.7 1006.7,417.3 1008.6,424.9 1010.4,423.4 1012.6,416.4 1013.9,417.6 1015.9,418.2 1018.1,417.3 1020.2,419.7 1022.1,417.6 1024,417 1025.9,412.7 1027.4,406.6 1028.2,402.9 1029.9,397.5 1031.2,389.5 1033.3,377.3 1035.4,372.1 1037,366.8 1038.9,360.3 1041.1,358.3 1043.2,365.3 1044.8,365 1047,357.1 1048.9,365.6 1050.7,369.1 1052.5,369.7 1054.7,360.3 1055.5,369.7 1056.6,387.3 1058.6,394.8 1060.4,387.3 1061.8,399 1063.9,419.5 1066.3,430 1068.3,435.3 1070.4,435.6 1072,450.5 1073.5,450.9 1075.8,449.8 1076.6,456 1077.6,468.7 1078.2,472 1079.7,476.7 1081.8,478.5 1083.4,480.9 1085.3,485.1 1087.5,486.7 1089.6,485.8 1091.2,486.5 1093.2,489.4 1095.1,490.7 1097.1,492.6 1099,499.7 1100.6,507.6 1102.6,512.3 1104.8,517.9 1106.8,513 1108.9,510.2 1110.7,511.1 1112.5,516.5 1114.3,518.3 1116.7,524.5" fill="none" stroke="#111" stroke-width="2.2" stroke-linejoin="round" stroke-linecap="round"/>
<path d="M1357.1,211.4 C1357.5,213.8 1357.8,224.7 1359.3,225.7 C1359.9,226.1 1360.9,225.7 1361.5,225.1 C1362.8,223.7 1362.2,214.9 1363.2,214.7 C1363.8,214.6 1364.8,216.6 1365.4,218 C1366.3,220.2 1366.2,223.9 1367,226.8 C1367.8,229.8 1369.3,232.5 1370.3,235.6 C1371.4,239 1372,243 1373,246.5 C1374,249.9 1374.7,256 1376.3,256.4 C1377.5,256.7 1379.2,253.5 1380.7,252.6 C1382,251.8 1383.6,252 1384.6,250.9 C1385.9,249.5 1386.1,247.2 1386.8,244.3 C1388.1,239.2 1389.2,227.6 1390.6,222.4 C1391.4,219.3 1392,216 1393.3,215.3 C1394.1,214.9 1395.3,215.2 1396.1,215.8 C1397.2,216.8 1397.5,221.7 1398.3,221.8 C1399,221.9 1400.1,218.6 1400.5,218 L1401.6,202.6 L1403.8,175.2 C1404.2,173.4 1404.9,167.5 1406,164.2 C1407,161.4 1408.8,159.4 1409.8,156.6 C1411,153.3 1411.6,149.9 1412.5,145.6 C1413.7,139.5 1414.6,130 1415.8,123.6 C1416.7,118.7 1417.6,114.4 1418.6,110.5 C1419.4,107.3 1420.1,104.1 1421.3,101.7 C1422.2,99.7 1423.2,97.7 1424.6,96.8 C1425.8,96 1427.7,96.8 1429,96.2 C1430.3,95.6 1431.5,94.2 1432.3,92.9 C1433.2,91.5 1433.1,88.3 1433.9,88 C1434.5,87.8 1435.4,88.7 1436.1,89.6 C1437.2,91.1 1437.7,95.4 1438.9,97.3 C1439.8,98.8 1441.3,100.8 1442.2,100.6 C1443.2,100.4 1443.8,97.4 1444.4,95.1 C1445.4,91.7 1446,85.7 1446.6,81.9 C1447,79 1447.2,74.3 1447.7,74.3 C1448.2,74.3 1449.1,79.4 1449.8,81.9 C1450.5,84.3 1450.9,87.3 1452,89.1 C1452.9,90.5 1454,92.1 1455.3,92.4 C1456.6,92.7 1458.5,91.9 1459.7,90.7 C1461.4,89 1461.9,84.9 1463,81.9 C1464.1,78.7 1465.3,72.2 1466.3,72.1 C1466.9,72.1 1467.7,74.9 1468,75.4 L1468.5,123.6 C1468.9,124 1470.1,124.7 1470.8,125.9 C1472.1,128.2 1472.9,135.7 1473.3,137.6 L1475.9,163.5 C1476.5,164.8 1478.2,168.3 1479.2,171 C1480.4,174.1 1481.3,177.8 1482.5,181 C1483.7,184.1 1485,189.7 1486.3,189.8 C1487.3,189.9 1488.4,187.3 1489.2,185.2 C1490.5,181.7 1490.8,175.3 1491.7,170.2 C1492.6,164.8 1493.6,158.3 1494.7,153.5 C1495.6,149.7 1496.4,143.5 1497.6,143.4 C1498.5,143.3 1499.6,146.2 1500.5,148.4 C1502,152 1502.9,159.4 1504.3,163.5 C1505.3,166.5 1506.3,169.2 1507.6,171 C1508.5,172.3 1509.6,174.1 1510.5,173.9 C1511.7,173.7 1512.5,169.3 1513.5,166.8 C1514.6,163.9 1515.7,157.6 1516.8,157.6 C1517.7,157.6 1518.5,161 1519.3,163.5 C1520.5,167.3 1521.5,174 1522.7,178.5 C1523.7,182.2 1524.5,186.5 1526,188.6 C1526.9,189.9 1528.1,191 1529.3,191.1 C1530.6,191.2 1532.2,189.8 1533.5,188.6 C1535.3,187 1537.1,184.6 1538.5,181.9 C1540.2,178.6 1541.5,174.3 1542.7,170.2 C1544,165.9 1544.8,160.7 1546.1,156.8 C1547.1,153.6 1548,150.3 1549.4,148.4 C1550.4,147.1 1551.6,146.4 1552.7,145.9 C1553.6,145.5 1554.4,145.8 1555.3,145.5 C1556.4,145.2 1557.7,143.7 1558.6,143.9 C1559.3,144.1 1559.8,144.8 1560.3,145.9 C1561.8,149.3 1562.6,161.5 1563.6,168.5 C1564.5,174.5 1564.8,180.8 1566.1,185.2 C1567,188.3 1568.6,189.8 1569.5,192.7 C1570.7,196.5 1571.6,203.9 1572,206.1 L1574.5,231.2 L1576.6,252.1 C1577.1,252.4 1578.5,253.8 1579.5,253.8 C1580.6,253.8 1581.8,252.5 1582.8,252.1 C1583.6,251.8 1584.1,251.3 1584.9,251.3 C1585.8,251.4 1587.4,252.6 1587.9,252.9" fill="none" stroke="#ff0000" stroke-width="2.3" stroke-linejoin="round" stroke-linecap="round"/>
<polyline points="1387.3,105.1 1389.5,109.4 1391.2,104.8 1393.1,95.4 1395,96 1396.7,94.5 1398.4,93.6 1399.2,93.6 1400.9,95.1 1402.6,97.8 1403.3,99.4 1404.7,106.4 1406.4,104.2 1408.1,108.8 1410.6,114.9 1412.3,114.6 1414.5,108.2 1416.4,115.8 1418.2,114.3 1420.4,107.3 1421.7,108.5 1423.7,109.1 1425.9,108.2 1428,110.7 1429.9,108.5 1431.8,107.9 1433.7,103.6 1435.2,97.5 1436,93.9 1437.7,88.4 1439,80.5 1441.1,68.3 1443.2,63 1444.8,57.7 1446.7,51.3 1448.9,49.3 1451,56.3 1452.6,56 1454.8,48.1 1456.7,56.6 1458.5,60.1 1460.3,60.6 1462.5,51.3 1463.3,60.6 1464.4,78.3 1466.4,85.8 1468.2,78.3 1469.6,89.9 1471.7,110.4 1474.1,121 1476.1,126.2 1478.2,126.5 1479.8,141.4 1481.3,141.8 1483.6,140.7 1484.4,146.9 1485.4,159.6 1486,162.9 1487.5,167.6 1489.6,169.4 1491.2,171.8 1493.1,176 1495.3,177.6 1497.4,176.7 1499,177.4 1501,180.2 1502.9,181.6 1504.9,183.5 1506.8,190.5 1508.4,198.5 1510.4,203.2 1512.6,208.8 1514.6,203.8 1516.7,201.1 1518.5,202 1520.3,207.3 1522.1,209.2 1524.5,215.3" fill="none" stroke="#111" stroke-width="2.2" stroke-linejoin="round" stroke-linecap="round"/>
<path d="M1357.6,451.3 C1358.7,451.4 1361.9,451.3 1364.2,451.7 C1366.8,452.2 1369.5,453.8 1372.2,454.4 C1374.8,455 1377.6,455.6 1380.2,455.3 C1382.7,455.1 1385,454.1 1387.3,453 C1389.7,451.9 1391.9,450 1394.4,448.6 C1397,447.1 1399.7,445.5 1402.4,444.2 C1405,443 1407.8,442.2 1410.4,441.1 C1412.9,440.1 1415.1,439.2 1417.5,437.9 C1420.1,436.5 1422.8,434.4 1425.5,433.1 C1428.1,431.9 1431.1,431.3 1433.5,430.4 C1435.5,429.7 1437,429.2 1438.8,428.2 C1440.9,427 1443.1,425 1445.1,423.3 C1447,421.6 1448.7,419.8 1450.4,418 C1452.2,416.1 1453.9,414.2 1455.7,412.2 C1457.7,410 1459.9,407.8 1461.9,405.5 C1464,403.1 1466.3,400.6 1468.1,398 C1469.8,395.5 1471.1,392.2 1472.6,390 C1473.8,388.2 1474.7,386.9 1476.1,385.5 C1477.6,384 1479.5,382.2 1481.5,381.5 C1483.4,380.8 1485.7,381 1487.6,381 C1489.2,381 1490.6,381.6 1491.9,381.5 C1493.1,381.4 1494,380.3 1495.2,380.4 C1496.6,380.5 1498.1,381.6 1499.6,382.6 C1501.4,383.8 1503.4,385.6 1505.1,387.6 C1507.1,390 1509,392.9 1510.6,396.3 C1512.5,400.4 1513.6,405.6 1515,410.6 C1516.5,415.9 1518.1,421.5 1519.4,427.1 C1520.7,432.8 1521.6,438.5 1522.7,444.6 C1523.9,451.2 1524.9,458.5 1526,465.5 C1527.1,472.4 1528,479.1 1529.2,486.3 C1530.5,494 1532.1,502.4 1533.6,510.4 C1535.1,518.5 1536.3,527.5 1538,534.6 C1539.3,540.3 1540.9,545 1542.4,549.9 C1543.8,554.5 1544.7,560.9 1546.8,563.1 C1548,564.4 1549.7,564.8 1551.2,564.8 C1552.9,564.8 1555.2,563.8 1556.7,562.6 C1558.2,561.4 1558.9,559.7 1560,557.6 C1561.5,554.7 1562.8,550.6 1564.4,546.7 C1566.3,542 1568.5,536.3 1570.9,531.3 C1573.3,526.4 1576.6,520.9 1578.6,517 C1580,514.4 1580.9,512.9 1581.9,510.4 C1583.1,507.5 1584.3,503.8 1585.2,500.6 C1586.1,497.6 1587,493.3 1587.4,491.8" fill="none" stroke="#1414ff" stroke-width="2.3" stroke-linejoin="round" stroke-linecap="round"/>
<polyline points="1422.4,414.2 1424.6,418.5 1426.3,413.9 1428.2,404.5 1430.1,405.1 1431.8,403.5 1433.5,402.6 1434.3,402.6 1436,404.1 1437.7,406.9 1438.4,408.4 1439.8,415.5 1441.5,413.3 1443.2,417.9 1445.7,424 1447.4,423.7 1449.6,417.3 1451.5,424.9 1453.3,423.4 1455.5,416.4 1456.8,417.6 1458.8,418.2 1461,417.3 1463.1,419.7 1465,417.6 1466.9,417 1468.8,412.7 1470.3,406.6 1471.1,402.9 1472.8,397.5 1474.1,389.5 1476.2,377.3 1478.3,372.1 1479.9,366.8 1481.8,360.3 1484,358.3 1486.1,365.3 1487.7,365 1489.9,357.1 1491.8,365.6 1493.6,369.1 1495.4,369.7 1497.6,360.3 1498.4,369.7 1499.5,387.3 1501.5,394.8 1503.3,387.3 1504.7,399 1506.8,419.5 1509.2,430 1511.2,435.3 1513.3,435.6 1514.9,450.5 1516.4,450.9 1518.7,449.8 1519.5,456 1520.5,468.7 1521.1,472 1522.6,476.7 1524.7,478.5 1526.3,480.9 1528.2,485.1 1530.4,486.7 1532.5,485.8 1534.1,486.5 1536.1,489.4 1538,490.7 1540,492.6 1541.9,499.7 1543.5,507.6 1545.5,512.3 1547.7,517.9 1549.7,513 1551.8,510.2 1553.6,511.1 1555.4,516.5 1557.2,518.3 1559.6,524.5" fill="none" stroke="#111" stroke-width="2.2" stroke-linejoin="round" stroke-linecap="round"/>
<text x="841.5" y="707" font-size="44.5" text-anchor="middle" fill="#000" font-weight="bold">(a)</text>
<line x1="511.3" y1="807" x2="511.3" y2="822" stroke="#000" stroke-width="2"/>
<line x1="511.3" y1="1297" x2="511.3" y2="1282" stroke="#000" stroke-width="2"/>
<line x1="903.7" y1="807" x2="903.7" y2="822" stroke="#000" stroke-width="2"/>
<line x1="903.7" y1="1297" x2="903.7" y2="1282" stroke="#000" stroke-width="2"/>
<line x1="1296.2" y1="807" x2="1296.2" y2="822" stroke="#000" stroke-width="2"/>
<line x1="1296.2" y1="1297" x2="1296.2" y2="1282" stroke="#000" stroke-width="2"/>
<line x1="707.5" y1="807" x2="707.5" y2="816" stroke="#000" stroke-width="2"/>
<line x1="707.5" y1="1297" x2="707.5" y2="1288" stroke="#000" stroke-width="2"/>
<line x1="1100" y1="807" x2="1100" y2="816" stroke="#000" stroke-width="2"/>
<line x1="1100" y1="1297" x2="1100" y2="1288" stroke="#000" stroke-width="2"/>
<line x1="1492.4" y1="807" x2="1492.4" y2="816" stroke="#000" stroke-width="2"/>
<line x1="1492.4" y1="1297" x2="1492.4" y2="1288" stroke="#000" stroke-width="2"/>
<line x1="413.2" y1="1215.3" x2="428.7" y2="1215.3" stroke="#000" stroke-width="2"/>
<line x1="1688.6" y1="1215.3" x2="1673.1" y2="1215.3" stroke="#000" stroke-width="2"/>
<line x1="413.2" y1="1052" x2="428.7" y2="1052" stroke="#000" stroke-width="2"/>
<line x1="1688.6" y1="1052" x2="1673.1" y2="1052" stroke="#000" stroke-width="2"/>
<line x1="413.2" y1="888.7" x2="428.7" y2="888.7" stroke="#000" stroke-width="2"/>
<line x1="1688.6" y1="888.7" x2="1673.1" y2="888.7" stroke="#000" stroke-width="2"/>
<line x1="413.2" y1="1133.7" x2="422.2" y2="1133.7" stroke="#000" stroke-width="2"/>
<line x1="1688.6" y1="1133.7" x2="1679.6" y2="1133.7" stroke="#000" stroke-width="2"/>
<line x1="413.2" y1="970.3" x2="422.2" y2="970.3" stroke="#000" stroke-width="2"/>
<line x1="1688.6" y1="970.3" x2="1679.6" y2="970.3" stroke="#000" stroke-width="2"/>
<text x="395.5" y="898.7" font-size="34" text-anchor="end" fill="#111" font-weight="normal">1</text>
<text x="395.5" y="1062" font-size="34" text-anchor="end" fill="#111" font-weight="normal">0</text>
<text x="395.5" y="1225.3" font-size="34" text-anchor="end" fill="#111" font-weight="normal">−1</text>
<text x="511.3" y="780.8" font-size="34" text-anchor="middle" fill="#111" font-weight="normal">0</text>
<text x="903.7" y="780.8" font-size="34" text-anchor="middle" fill="#111" font-weight="normal">200</text>
<text x="1296.2" y="780.8" font-size="34" text-anchor="middle" fill="#111" font-weight="normal">400</text>
<text x="1688.6" y="780.8" font-size="34" text-anchor="middle" fill="#111" font-weight="normal">600</text>
<line x1="554.9" y1="1297" x2="554.9" y2="1312" stroke="#000" stroke-width="2"/>
<line x1="554.9" y1="1788.5" x2="554.9" y2="1773.5" stroke="#000" stroke-width="2"/>
<line x1="838.3" y1="1297" x2="838.3" y2="1312" stroke="#000" stroke-width="2"/>
<line x1="838.3" y1="1788.5" x2="838.3" y2="1773.5" stroke="#000" stroke-width="2"/>
<line x1="1121.8" y1="1297" x2="1121.8" y2="1312" stroke="#000" stroke-width="2"/>
<line x1="1121.8" y1="1788.5" x2="1121.8" y2="1773.5" stroke="#000" stroke-width="2"/>
<line x1="1405.2" y1="1297" x2="1405.2" y2="1312" stroke="#000" stroke-width="2"/>
<line x1="1405.2" y1="1788.5" x2="1405.2" y2="1773.5" stroke="#000" stroke-width="2"/>
<line x1="696.6" y1="1297" x2="696.6" y2="1306" stroke="#000" stroke-width="2"/>
<line x1="696.6" y1="1788.5" x2="696.6" y2="1779.5" stroke="#000" stroke-width="2"/>
<line x1="980" y1="1297" x2="980" y2="1306" stroke="#000" stroke-width="2"/>
<line x1="980" y1="1788.5" x2="980" y2="1779.5" stroke="#000" stroke-width="2"/>
<line x1="1263.5" y1="1297" x2="1263.5" y2="1306" stroke="#000" stroke-width="2"/>
<line x1="1263.5" y1="1788.5" x2="1263.5" y2="1779.5" stroke="#000" stroke-width="2"/>
<line x1="1546.9" y1="1297" x2="1546.9" y2="1306" stroke="#000" stroke-width="2"/>
<line x1="1546.9" y1="1788.5" x2="1546.9" y2="1779.5" stroke="#000" stroke-width="2"/>
<line x1="413.2" y1="1706.6" x2="428.7" y2="1706.6" stroke="#000" stroke-width="2"/>
<line x1="1688.6" y1="1706.6" x2="1673.1" y2="1706.6" stroke="#000" stroke-width="2"/>
<line x1="413.2" y1="1542.8" x2="428.7" y2="1542.8" stroke="#000" stroke-width="2"/>
<line x1="1688.6" y1="1542.8" x2="1673.1" y2="1542.8" stroke="#000" stroke-width="2"/>
<line x1="413.2" y1="1378.9" x2="428.7" y2="1378.9" stroke="#000" stroke-width="2"/>
<line x1="1688.6" y1="1378.9" x2="1673.1" y2="1378.9" stroke="#000" stroke-width="2"/>
<line x1="413.2" y1="1624.7" x2="422.2" y2="1624.7" stroke="#000" stroke-width="2"/>
<line x1="1688.6" y1="1624.7" x2="1679.6" y2="1624.7" stroke="#000" stroke-width="2"/>
<line x1="413.2" y1="1460.8" x2="422.2" y2="1460.8" stroke="#000" stroke-width="2"/>
<line x1="1688.6" y1="1460.8" x2="1679.6" y2="1460.8" stroke="#000" stroke-width="2"/>
<text x="395.5" y="1388.9" font-size="34" text-anchor="end" fill="#111" font-weight="normal">1</text>
<text x="395.5" y="1552.8" font-size="34" text-anchor="end" fill="#111" font-weight="normal">0</text>
<text x="395.5" y="1716.6" font-size="34" text-anchor="end" fill="#111" font-weight="normal">−1</text>
<text x="554.9" y="1831.5" font-size="34" text-anchor="middle" fill="#111" font-weight="normal">0</text>
<text x="838.3" y="1831.5" font-size="34" text-anchor="middle" fill="#111" font-weight="normal">200</text>
<text x="1121.8" y="1831.5" font-size="34" text-anchor="middle" fill="#111" font-weight="normal">400</text>
<text x="1405.2" y="1831.5" font-size="34" text-anchor="middle" fill="#111" font-weight="normal">600</text>
<text x="1688.6" y="1831.5" font-size="34" text-anchor="middle" fill="#111" font-weight="normal">800</text>
<text x="341" y="1052" font-size="42" text-anchor="middle" fill="#111" font-weight="normal" transform="rotate(-90 341 1052)">CDG-MI</text>
<text x="341" y="1543" font-size="42" text-anchor="middle" fill="#111" font-weight="normal" transform="rotate(-90 341 1543)">CDG-HC</text>
<path d="M513.2,1207 L514.2,1196.2 C514.6,1195.8 515.8,1194.1 516.7,1194.1 C517.7,1194.1 518.9,1196.9 520.1,1197 C521.2,1197.1 522.6,1196.3 523.4,1195.3 C524.5,1193.9 524.5,1191.5 525.1,1188.7 C526.1,1184 526.5,1172.7 528,1169.4 C528.6,1168 529.2,1168 530.1,1166.9 C532,1164.7 536.9,1160 538.5,1156.9 C539.6,1154.8 539.7,1153.5 540.2,1151 C541.1,1146.7 541.9,1139.4 542.7,1133.5 C543.5,1127.4 543.4,1117.3 545.2,1115.1 C545.9,1114.3 546.9,1114 547.7,1114.3 C549.2,1114.8 550.8,1120.8 552.3,1121 C553.3,1121.1 554.2,1119.7 555.2,1118.4 C557,1116 559.6,1109.1 561,1106.7 C561.7,1105.5 562.4,1104.6 562.7,1104.2 L563.5,1078.4 L563.9,987.1 C564.5,983.8 566.5,973.6 567.5,967.2 C568.4,961.4 567.8,951.6 569.9,950.4 C571,949.7 573,952.2 574.5,952.3 C575.8,952.4 577.1,951 578.4,951.3 C580,951.7 581.8,955.5 583,955.3 C584.1,955.1 584.7,951.2 585.4,951.3 C586.8,951.6 587.3,965.2 588.4,971.2 C589.3,976.3 589.3,982.1 591.3,985.1 C592.8,987.3 595.7,989.8 597.3,989.1 C600.3,987.8 600,972.1 601.3,963.3 C602.6,954.2 603.5,944 605.2,935.5 C606.6,928.3 608,921.5 610.2,915.6 C612.1,910.4 615,905.1 617.2,901.7 C618.6,899.5 619.8,896.7 621.1,896.7 C622.5,896.7 624,902.6 625.5,902.7 C627,902.8 628.6,897.7 630.1,897.7 C631.7,897.7 633.5,901.2 635,903.7 C637.2,907.3 638.9,913.4 641,917.6 C642.9,921.2 645.4,923.2 646.9,927.5 C649.3,934.3 649.4,946.8 650.9,955.3 C652.1,962.5 653.4,968 654.9,975.2 C656.7,983.7 659.1,993.9 660.8,1003 C662.4,1011.7 663.4,1019.9 664.8,1028.8 C666.3,1038.4 667.8,1050.3 669.8,1058.6 C671.3,1064.8 672.7,1069 674.7,1074.5 C676.9,1080.8 680.3,1087.1 682.7,1094.3 C685.4,1102.7 687.6,1113.2 689.6,1122.1 C691.5,1130.3 693.8,1141.9 694.6,1145.9 L697.6,1177.7 C698.1,1179.7 698.9,1186.9 700.6,1189.6 C701.9,1191.6 704.1,1191.9 705.5,1193.6 C707.2,1195.7 708.3,1201.6 709.5,1201.5 C711,1201.4 712.2,1192.4 713.5,1187.6 C714.9,1182.5 716,1171.9 717.4,1171.8 C718.5,1171.7 719.6,1178.6 720.9,1181.7 C722.1,1184.5 723.7,1189.7 724.8,1189.6 C726.2,1189.4 727.3,1176.3 727.8,1173.7 L730.8,1142 C731.3,1140.3 733.3,1133.7 733.8,1132 L735.7,1110.2 L738.7,1074.5 C739.2,1072.2 740.1,1064.3 741.7,1060.6 C743,1057.7 745.9,1054.8 746.7,1053.6 L747.7,1018.9 L748.6,989.1 C749.3,987.1 751.5,980.5 752.6,977.2 C753.4,974.9 754.3,972.2 754.6,971.2 L756.6,951.3 C757.3,951.5 759.4,951.9 760.6,952.3 C761.7,952.6 762.4,953.4 763.5,953.3 C765,953.2 766.8,950.4 768.5,950.4 C770.2,950.4 772.2,951.6 773.5,953.3 C775.5,956 774.8,965.2 776.5,967.2 C777.3,968.1 778.5,968.5 779.4,968.2 C780.8,967.7 781.7,963.2 783.4,962.3 C784.8,961.5 786.8,962.6 788.4,962.3 C790.1,962 792,961.7 793.3,960.3 C795.4,958 796,951.9 797.3,947.4 C798.7,942.4 799.7,936.9 801.3,931.5 C803,925.7 805,918.7 807.2,913.6 C809,909.4 810.8,903.8 813.2,902.7 C814.7,902 816.7,904.4 818.2,903.7 C820.3,902.7 821.6,894.6 823.1,894.7 C824.6,894.8 825.9,900.3 827.1,903.7 C828.6,907.8 829.6,913 831.1,917.6 C832.6,922.3 834.7,926.8 836,931.5 C837.3,936.1 838,940 839,945.4 C840.3,952.7 842.3,966.9 843,971.2 L846.9,1008.9 C847.7,1014.5 850.3,1031.3 851.9,1042.7 C853.6,1054.4 855.3,1067.5 856.9,1078.4 C858.3,1087.7 859.1,1096.4 860.8,1104.2 C862.2,1110.8 864,1116.8 865.8,1122.1 C867.3,1126.5 869.4,1129.7 870.8,1134 C872.4,1138.9 873.6,1144.3 874.7,1149.9 C875.9,1156.1 876.5,1164 877.7,1169.8 C878.6,1174.3 879.5,1177.5 880.7,1181.7 C882.1,1186.6 883.8,1193.7 885.7,1197.6 C886.9,1200.2 888.4,1203.6 889.6,1203.5 C891.1,1203.4 892.1,1196.9 893.6,1193.6 C895.1,1190.3 896.8,1186.2 898.6,1183.7 C899.9,1181.9 901.1,1180.3 902.5,1179.7 C903.7,1179.2 905.4,1180.5 906.5,1179.7 C908.6,1178.1 909.4,1171 910.5,1165.8 C911.9,1159.4 911.2,1147.3 913.5,1144 C914.5,1142.5 916.3,1143.3 917.4,1142 C919.3,1139.6 919.8,1132.7 920.9,1128.1 C922,1123.5 922.5,1118.9 923.8,1114.2 C925.2,1109 928.5,1101 929.4,1098.3 L929.8,1058.6 L930.8,993 C931.5,991.4 933.2,986.2 934.8,983.1 C936.5,980 939.7,975.7 940.7,974.2 L942.7,952.3 C943.4,952 945.7,950 946.7,950.4 C947.9,951 947.8,957.2 948.6,957.3 C949.4,957.4 950.2,952.4 951.6,951.3 C952.7,950.4 954.4,949.9 955.6,950.4 C957.2,951.1 958.3,954.7 959.6,957.3 C961.2,960.5 962.6,965.4 964.5,968.2 C966,970.4 967.7,973 969.5,973.2 C971.3,973.4 973.8,969 975.5,969.2 C977,969.4 978.2,971.7 979.4,973.2 C980.8,974.9 982.2,979.3 983.4,979.1 C985,978.9 985.9,970.7 987.4,967.2 C988.6,964.3 989.8,962.1 991.3,959.3 C993.1,955.9 996.3,950.2 997.3,948.4 L999.3,917.6 C999.8,917.8 1001.5,917.8 1002.3,918.6 C1003.7,919.9 1003.8,926.1 1005.2,926.5 C1006.3,926.8 1008,924.9 1009.2,923.5 C1010.7,921.8 1012.1,916.4 1013.2,916.6 C1015,916.9 1016,928.6 1017.2,935.5 C1018.7,943.9 1019.7,954.4 1021.1,963.3 C1022.4,971.6 1023.8,978.6 1025.1,987.1 C1026.5,996.9 1027.8,1008.5 1029.1,1018.9 C1030.4,1029 1030.5,1041.5 1033,1048.6 C1034.5,1053 1036.7,1055.6 1039,1058.6 C1041.3,1061.5 1044,1065.1 1046.9,1066.5 C1049.4,1067.7 1052.7,1068.3 1054.9,1067.5 C1057,1066.8 1058.6,1062.1 1059.9,1062.5 C1062.3,1063.2 1062.6,1077.3 1063.8,1084.4 C1064.9,1091.2 1065.5,1100.2 1066.8,1104.2 C1067.4,1106.1 1068.1,1108.3 1068.8,1108.2 C1070,1108.1 1071.4,1099 1072.8,1094.3 C1074.3,1089.4 1076.2,1079.4 1077.7,1079.4 C1079.1,1079.4 1080.5,1088.2 1081.7,1092.3 C1082.8,1096.1 1083.6,1103.1 1084.7,1103.2 C1085.5,1103.3 1086.7,1099.1 1087.1,1098.3 L1088.6,1058.6 L1089.6,968.2 C1090.4,967.4 1092.7,963.9 1094.6,963.3 C1096.4,962.7 1098.8,964.2 1100.6,964.3 C1102,964.4 1103.4,963.5 1104.5,964.3 C1106.7,966 1107.4,973.9 1108.5,979.1 C1109.7,984.8 1110.1,992.7 1111.5,997 C1112.4,999.6 1113.2,1002.2 1114.5,1003 C1115.4,1003.5 1117,1003 1117.5,1003 L1118.9,1042.7 C1119.4,1041.4 1120.9,1037.7 1121.8,1034.7 C1122.9,1031.2 1123.8,1022.8 1124.8,1022.8 C1125.8,1022.8 1126.1,1036 1127.8,1036.7 C1128.6,1037 1130.3,1035 1130.8,1034.7 L1132.8,999 L1133.8,987.1 C1134.5,985.1 1136.2,978.6 1137.7,975.2 C1138.9,972.5 1140.1,970.1 1141.7,968.2 C1143.1,966.5 1145.1,964.7 1146.7,964.3 C1148,964 1149.2,965 1150.6,965.2 C1152.2,965.4 1154.2,966 1155.6,965.2 C1157.4,964.1 1158.5,960.7 1159.6,957.3 C1161.4,951.9 1162.3,942.2 1163.5,935.5 C1164.6,929.8 1166,922.2 1166.5,919.6 L1169.5,891.8 C1170,891.8 1171.7,891.2 1172.5,891.8 C1173.9,892.8 1174.4,899.6 1175.5,899.7 C1176.7,899.8 1178.1,893.9 1179.4,891.8 C1180.4,890.2 1181.3,887.8 1182.4,887.8 C1183.7,887.8 1185.2,891.3 1186.4,893.8 C1188.1,897.4 1189,903.5 1190.4,907.7 C1191.6,911.3 1192.6,914.8 1194.3,917.6 C1195.7,920 1198,921.1 1199.3,923.5 C1200.8,926.3 1201.4,929.6 1202.3,933.5 C1203.5,938.9 1204.2,946.9 1205.2,953.3 C1206.2,959.4 1206.7,965.9 1208.2,971.2 C1209.5,975.7 1211.7,978.4 1213.2,983.1 C1215.2,989.6 1216.7,998.8 1218.2,1006.9 C1219.7,1015.3 1220.8,1024.2 1222.1,1032.8 C1223.4,1041.4 1224.7,1049.7 1226.1,1058.6 C1227.6,1068.2 1229.5,1078.3 1231.1,1088.4 C1232.8,1098.8 1234.3,1109.7 1236,1120.1 C1237.6,1130.2 1239.2,1140.5 1241,1149.9 C1242.6,1158.3 1244.2,1166.5 1246,1173.7 C1247.5,1179.8 1249.5,1185.6 1250.9,1190.6 C1252,1194.6 1252.9,1198 1253.9,1201.5 C1254.9,1204.9 1255.9,1211.5 1256.9,1211.5 C1258.2,1211.5 1258.7,1196.6 1260.8,1195.6 C1261.9,1195.1 1263.6,1198 1264.8,1197.6 C1266.5,1197 1267.7,1193.2 1268.8,1189.6 C1270.9,1182.9 1269.8,1162.4 1272.8,1159.8 C1273.9,1158.9 1275.4,1159.3 1276.7,1159.8 C1278.4,1160.4 1280.9,1163.1 1281.7,1163.8 L1285.7,1128.1 C1286.4,1123.6 1285.8,1104.2 1289.6,1101.3 C1291.8,1099.6 1295.8,1103.3 1298.6,1102.3 C1302,1101.2 1305,1096.3 1307.9,1093.3 C1310.7,1090.4 1314.6,1085.9 1315.9,1084.4 L1316.9,1018.9 L1317.5,979.1 C1318.1,977.5 1319.6,972.5 1320.9,969.2 C1322.3,965.6 1323.5,960.1 1325.8,958.3 C1327.5,957 1329.9,956.9 1331.8,957.3 C1333.9,957.8 1335.7,959.9 1337.7,961.3 C1339.9,962.8 1342.5,966.4 1344.7,966.2 C1346.8,966 1348.9,962.6 1350.6,960.3 C1352.5,957.7 1353.9,954.2 1355.6,951.3 C1357.2,948.6 1359.8,944.7 1360.6,943.4 L1362.6,920.6 C1363.2,920.6 1365.4,919.8 1366.5,920.6 C1368.7,922.3 1369.2,936.5 1370.5,936.5 C1371.9,936.5 1372.7,919.1 1374.5,918.6 C1375.4,918.4 1376.5,920 1377.4,921.6 C1379.3,925.2 1379.5,935.5 1381.4,941.4 C1383,946.5 1385.6,951 1387.4,955.3 C1388.9,958.9 1389.5,962 1391.3,965.2 C1393.3,968.7 1397.2,971.3 1399.3,975.2 C1401.7,979.7 1403.5,988.5 1404.3,991.1 L1408.2,1022.8 L1411.2,1050.6 C1411.9,1055.9 1413.6,1072.4 1415.2,1082.4 C1416.6,1091.5 1418.4,1100 1420.1,1108.2 C1421.7,1115.8 1423.2,1123.2 1425.1,1130.1 C1426.9,1136.4 1429.2,1142.3 1431.1,1147.9 C1432.8,1152.8 1434.5,1157.3 1436,1161.8 C1437.4,1165.9 1438.1,1170.3 1440,1173.7 C1441.8,1176.8 1444.9,1181.7 1446.9,1181.7 C1448.4,1181.7 1449.3,1177.9 1450.9,1176.7 C1452.4,1175.6 1454.6,1176.2 1455.9,1174.7 C1457.9,1172.4 1457.4,1166.1 1458.9,1161.8 C1460.6,1157.2 1463.8,1152.6 1465.8,1147.9 C1467.8,1143.3 1469.3,1138.5 1470.8,1134 C1472.2,1129.9 1474,1124.1 1474.7,1122.1" fill="none" stroke="#ff0000" stroke-width="3.5" stroke-linejoin="round" stroke-linecap="round"/>
<polyline points="562,979.1 564.5,985.1 568.5,961.3 573.5,957.3 577.4,967.2 580.4,981.1 582.4,977.2 585.4,997 588.4,992 590.4,985.1 592.3,999 595.3,991.1 597.3,983.1 600.3,987.1 603.3,965.2 607.2,947.4 613.2,929.5 619.1,909.6 622.1,891.8 625.1,885.8 627.5,898.7 631.1,882.8 634,899.7 637,907.7 639,888.8 641,919.6 642.6,943.4 645,917.6 646.9,943.4 648.9,979.1 651.9,1003 654.9,1005 656.9,1029.8 659.9,1030.8 661.8,1058.6 663.8,1076.4 667.8,1082.4 671.8,1094.3 675.7,1095.3 680.7,1104.2 683.7,1114.2 686.7,1134 689.6,1149.9 691.6,1140 694.6,1137 697.6,1140 699.6,1149.9 702.5,1161.8" fill="none" stroke="#4a7a00" stroke-width="3.5" stroke-linejoin="round" stroke-linecap="round"/>
<polyline points="761.6,990.1 764.5,984.1 767.5,988.1 769.5,975.2 772.5,972.8 776.5,970.2 779.4,963.3 781.4,947.4 783.4,933.5 787.4,925.5 791.3,918.6 797.3,913.6 803.3,907.7 809.2,905.7 815.2,904.7 819.1,921.6 823.1,935.5 828.1,955.3 831.1,983.1 835,988.1 840,985.1 843,999 846.9,1026.8 850.9,1060.6 854.9,1074.5 860.8,1080.4 863.8,1108.2 865.8,1134 869.8,1167.8 873.8,1181.7 877.7,1201.5 881.7,1211.5 885.7,1217.4 889.6,1193.6 894.6,1161.8 898.6,1138 902.1,1122.1" fill="none" stroke="#006955" stroke-width="3.5" stroke-linejoin="round" stroke-linecap="round"/>
<polyline points="1089.6,1010.9 1093.6,983.1 1096.6,969.2 1099.6,963.3 1102.5,962.3 1106.5,955.3 1110.9,954.3 1114.9,958.3 1117.5,979.1 1120.9,981.1 1123.8,1006.9 1126.8,999 1129.8,985.1 1132.8,979.1 1134.8,974.2 1137.7,968.2 1141.7,967.2 1146.7,963.3 1150.6,971.2 1154.6,959.3 1158.6,952.3 1162.5,923.5 1166.5,919.6 1169.9,897.7 1174.5,911.6 1179.4,896.7 1181.8,923.5 1184.4,899.7 1187.4,929.5 1190.4,917.6 1193.3,933.5 1197.3,931.5 1200.3,939.4 1203.3,936.5 1207.2,963.3 1211.2,975.2 1214.2,979.1 1217.2,1010.9 1221.1,1050.6 1225.1,1057.6 1229.1,1046.7" fill="none" stroke="#2a5109" stroke-width="3.5" stroke-linejoin="round" stroke-linecap="round"/>
<path d="M555.5,1697.5 C556.1,1699.2 558,1707.4 558.9,1707.4 C559.7,1707.4 560,1701.7 560.8,1699.5 C561.4,1697.9 562.2,1697.4 562.8,1695.5 C564.1,1691.5 564.2,1678.8 565.8,1675.7 C566.4,1674.5 567.5,1674 567.8,1673.7 L569.8,1651.8 C570.5,1647.8 572.3,1636.6 573.8,1628 C575.6,1617.7 577.6,1604.9 579.7,1594.2 C581.6,1584.5 583.7,1574.9 585.7,1566.4 C587.4,1559.2 588.4,1552.5 590.6,1546.6 C592.5,1541.4 594.9,1536.5 597.6,1532.7 C599.9,1529.4 602.5,1526.9 605.5,1524.7 C608.5,1522.6 611.9,1520.7 615.5,1519.8 C619.2,1518.8 623.4,1519.4 627.4,1519.2 C631.4,1519 635.3,1518.7 639.3,1518.4 C643.3,1518.1 647.2,1517.6 651.2,1517.2 C655.2,1516.8 661.1,1516 663.1,1515.8 L664.1,1496 C665.3,1495.5 668.8,1494.4 671.1,1493 C673.7,1491.5 676.7,1489.5 679,1487 C681.4,1484.3 683.2,1480.9 685,1477.1 C687.2,1472.5 689,1466.8 690.9,1461.2 C693,1455 694.5,1447.7 696.9,1441.3 C699.2,1435.1 702,1429 704.8,1423.5 C707.3,1418.5 710.3,1413.7 712.8,1409.6 C714.9,1406.2 716.6,1402.6 718.7,1400.6 C720.3,1399.1 721.9,1398.2 723.7,1397.7 C725.5,1397.2 727.8,1397.1 729.6,1397.7 C731.5,1398.3 733.3,1399.5 734.6,1401.6 C736.8,1404.9 737.9,1414.8 738.6,1417.5 L743,1453.3 C743.5,1455.6 744.9,1463.3 746,1467.2 C746.9,1470.2 748.1,1472.1 748.9,1475.1 C749.9,1479 750.6,1486.7 750.9,1489 L753.9,1528.7 L757.9,1568.4 L761.8,1608.1 L764.8,1643.9 L767.8,1675.7 L769.8,1695.5 C770.3,1696.2 772,1697.8 772.8,1699.5 C773.8,1701.6 774.2,1707.4 774.8,1707.4 C775.5,1707.4 775.7,1700.3 776.7,1697.5 C777.5,1695.2 778.9,1694.3 779.7,1691.5 C781.3,1686.3 781.5,1676.1 782.7,1667.7 C784.1,1658.3 785.9,1646.8 787.7,1637.9 C789.2,1630.6 791.1,1625.4 792.6,1618.1 C794.4,1609.2 795.9,1598.1 797.6,1588.3 C799.2,1578.9 800.7,1569.2 802.5,1560.5 C804.1,1552.7 805.6,1545 807.5,1538.6 C809,1533.4 810.1,1528.1 812.5,1524.7 C814.4,1522 816.8,1519.9 819.4,1518.8 C821.8,1517.7 824.8,1518.3 827.4,1517.8 C830.1,1517.3 832.5,1516.1 835.3,1515.8 C838.4,1515.4 843.6,1515.8 845.2,1515.8 L846.2,1495 C847.4,1494.3 850.9,1492.8 853.2,1491 C855.9,1488.9 858.8,1486.1 861.1,1483 C863.6,1479.6 865.3,1475.5 867.1,1471.1 C869.3,1465.8 871,1459.2 873,1453.3 C875,1447.3 877,1441.4 879,1435.4 C881,1429.4 882.8,1422.6 885,1417.5 C886.8,1413.3 888.7,1409.6 890.9,1406.6 C892.7,1404.1 894.6,1402.2 896.9,1400.6 C899.2,1398.9 902.8,1396.8 904.8,1396.7 C906,1396.6 907,1396.8 907.8,1397.7 C909.6,1399.7 909.8,1406.4 910.8,1411.6 C912.1,1418 913.5,1425.4 914.7,1433.4 C916.2,1443 917.5,1457.2 918.7,1465.2 C919.4,1470.1 918.9,1476.1 920.7,1477.1 C921.9,1477.8 923.9,1475.3 925.7,1475.1 C927.6,1474.9 930.2,1474.7 931.6,1476.1 C933.6,1478.1 933.3,1486.8 933.6,1489 L936.6,1518.8 L940.6,1558.5 L944.5,1598.2 L947.5,1628 L950.5,1657.8 L953.5,1687.6 C954,1690.6 955,1705.1 956.4,1705.4 C957.1,1705.5 958.2,1703.3 958.9,1701.5 C960.2,1698.4 960.7,1692.4 961.8,1687.6 C963,1682.5 964.6,1677.8 965.8,1671.7 C967.4,1663.8 968.3,1653 969.8,1643.9 C971.3,1635.1 973.2,1627 974.8,1618.1 C976.5,1608.5 978,1597.9 979.7,1588.3 C981.3,1579.4 983,1570.7 984.7,1562.5 C986.3,1554.9 987.1,1546.9 989.6,1540.6 C991.7,1535.3 994.4,1530.4 997.6,1526.7 C1000.5,1523.4 1003.8,1520.4 1007.5,1518.8 C1011.1,1517.2 1015.6,1517.1 1019.4,1516.8 C1022.9,1516.5 1027.7,1516.8 1029.4,1516.8 L1030.4,1497.9 C1031.6,1497.1 1035.2,1495 1037.3,1493 C1039.6,1490.8 1041.5,1488.3 1043.3,1485 C1045.6,1480.7 1047.2,1474.4 1049.2,1469.1 C1051.2,1463.8 1053.2,1458.6 1055.2,1453.3 C1057.2,1448 1059.1,1442.5 1061.1,1437.4 C1063,1432.6 1065.2,1428.3 1067.1,1423.5 C1069.1,1418.4 1070.9,1411.3 1073,1407.6 C1074.3,1405.3 1075.8,1404.5 1077,1402.6 C1078.5,1400.3 1079.4,1396.9 1081,1394.7 C1082.4,1392.7 1084.3,1391.5 1085.9,1389.7 C1087.6,1387.8 1089.1,1384 1090.9,1383.8 C1092.5,1383.6 1094.6,1385.8 1095.9,1387.7 C1097.5,1390.1 1098,1394.1 1098.9,1397.7 C1100,1401.9 1100.6,1407.8 1101.8,1411.6 C1102.7,1414.4 1103.3,1417.3 1104.8,1418.5 C1105.9,1419.4 1107.7,1418.4 1108.8,1419.5 C1110.8,1421.5 1111.3,1431.1 1111.8,1433.4 L1114.7,1473.1 L1117.7,1500.9 C1118.4,1504.9 1120.1,1517.9 1121.7,1524.7 C1122.9,1530 1125,1536.3 1125.7,1538.6 L1127.6,1558.5 L1129.6,1588.3 L1132.6,1628 L1135.6,1661.8 C1136.3,1664.1 1138.2,1675.6 1139.6,1675.7 C1140.5,1675.8 1141.6,1672 1142.5,1669.7 C1143.6,1666.8 1143.9,1661 1145.5,1659.8 C1146.3,1659.2 1147.7,1660.5 1148.5,1659.8 C1150.1,1658.5 1149.4,1651.1 1150.5,1647.9 C1151.3,1645.5 1152.5,1644.4 1153.5,1641.9 C1154.9,1638.3 1156.4,1633.1 1157.4,1628 C1158.6,1622 1158.8,1615.4 1159.9,1608.1 C1161.2,1599.2 1163.1,1588.1 1164.8,1578.4 C1166.4,1569 1167.3,1558.1 1169.8,1550.6 C1171.6,1545 1173.7,1538.6 1176.7,1536.7 C1178.7,1535.4 1181.5,1536.7 1183.7,1536.7 C1185.8,1536.7 1187.7,1537.6 1189.6,1536.7 C1192.4,1535.4 1194.9,1530 1197.6,1526.7 C1200.2,1523.4 1202.3,1518.8 1205.5,1516.8 C1208.4,1515 1213.8,1515.1 1215.5,1514.8 L1216.5,1495.9 C1217.7,1495.8 1221.3,1496.1 1223.4,1495 C1226,1493.6 1228.3,1490.3 1230.4,1487 C1233.1,1482.8 1235.2,1476.6 1237.3,1471.1 C1239.5,1465.4 1241.3,1459.2 1243.3,1453.3 C1245.3,1447.3 1247.2,1441.2 1249.2,1435.4 C1251.1,1429.9 1253.2,1424.8 1255.2,1419.5 C1257.2,1414.2 1258.9,1408.3 1261.1,1403.6 C1263,1399.5 1265,1396 1267.1,1392.7 C1269,1389.8 1270.9,1387 1273,1384.8 C1274.9,1382.8 1277.3,1379.4 1279,1379.8 C1281.1,1380.2 1282.5,1385.7 1284,1389.7 C1286,1395.1 1287.1,1403 1288.9,1409.6 C1290.7,1416.2 1292.9,1423 1294.9,1429.4 C1296.8,1435.5 1299.2,1440.7 1300.8,1447.3 C1302.7,1455 1304.1,1468.8 1304.8,1473.1 L1308.8,1512.8 L1312.8,1558.5 L1316.7,1618.1 L1319.7,1657.8 L1321.7,1691.5 C1322.2,1692.5 1323.8,1695.7 1324.7,1697.5 C1325.4,1699 1326,1701.5 1326.7,1701.5 C1327.6,1701.4 1328.7,1697 1329.6,1693.5 C1331.2,1687.4 1332,1675.9 1333.6,1667.7 C1335.1,1660.1 1337,1653.6 1338.6,1645.9 C1340.4,1637.2 1343.1,1622.7 1344,1618.1 L1347.9,1584.3 L1350.9,1558.5 C1351.6,1555.2 1353.3,1544.2 1354.9,1538.6 C1356.1,1534.4 1356.8,1530.2 1358.9,1527.7 C1360.7,1525.6 1363.4,1525.3 1365.8,1523.8 C1368.4,1522.2 1371,1519.4 1373.8,1518.4 C1376.3,1517.5 1378.9,1517.9 1381.7,1517.8 C1384.7,1517.7 1389.6,1517.8 1391.2,1517.8 L1391.6,1493 C1392.6,1491.3 1395.7,1486.5 1397.6,1483 C1399.7,1479.2 1401.5,1475.1 1403.5,1471.1 C1405.5,1467.1 1407.1,1463.4 1409.5,1459.2 C1412.3,1454.2 1416.6,1449.4 1419.4,1443.3 C1422.8,1435.9 1424.5,1424 1427.4,1417.5 C1429.3,1413.3 1431.2,1411.3 1433.3,1407.6 C1435.8,1403.2 1438.5,1396.9 1441.3,1392.7 C1443.5,1389.2 1445.7,1384.6 1448.2,1383.8 C1450.1,1383.2 1452.6,1384.2 1454.2,1385.7 C1456.3,1387.6 1456.8,1393.2 1458.2,1395.7 C1459.1,1397.4 1460.3,1397.7 1461.1,1399.6 C1462.7,1403.6 1463.1,1412.9 1464.1,1419.5 C1465.1,1426.1 1465.9,1432.8 1467.1,1439.4 C1468.3,1446 1470.4,1455.9 1471.1,1459.2 L1473,1479.1 L1473.4,1528.7 L1474.2,1588.3 L1474.6,1665.7 L1479,1628 C1480,1621.4 1482.7,1600.5 1485,1588.3 C1487,1577.6 1489.3,1567.4 1491.9,1558.5 C1494,1551.1 1495.9,1544.5 1498.9,1538.6 C1501.6,1533.3 1505.1,1528.2 1508.8,1524.7 C1511.8,1521.8 1515.1,1519.7 1518.7,1518.4 C1522.4,1517.1 1526.3,1517.1 1530.6,1516.8 C1535.7,1516.5 1544.7,1516.8 1547.5,1516.8" fill="none" stroke="#0000ff" stroke-width="3.5" stroke-linejoin="round" stroke-linecap="round"/>
<polyline points="672,1469.1 674,1478.1 676,1453.3 680,1449.3 683,1455.2 686,1469.1 687.9,1487 689.9,1477.1 691.9,1485 693.9,1489 695.9,1475.1 698.9,1477.1 701.8,1455.2 704.8,1433.4 708.8,1415.5 712.8,1395.7 715.7,1377.8 717.7,1386.7 719.7,1375.8 721.7,1389.7 722.7,1374.8 725.7,1395.7 728.2,1380.8 729.6,1409.6 730.6,1435.4 731.6,1409.6 733.6,1437.4 735.6,1479.1 737.6,1495 740,1495 742,1520.8 744,1522.8 745,1548.6 746,1568.4 748.9,1576.4 750.9,1584.3 754.9,1587.3 758.9,1596.2 760.8,1624 763.8,1641.9 765.8,1630 768.8,1628 770.8,1639.9 772.8,1643.9 774.2,1652.8" fill="none" stroke="#4a7a00" stroke-width="3.5" stroke-linejoin="round" stroke-linecap="round"/>
<polyline points="868.1,1480.1 870.1,1474.1 873,1478.1 874,1467.2 877,1463.2 881,1458.2 883,1429.4 886,1417.5 890.9,1407.6 896.9,1399.6 901.8,1396.7 906.8,1395.7 909.8,1417.5 912.8,1431.4 915.7,1447.3 917.7,1471.1 920.7,1478.1 924.7,1475.1 926.7,1485 929.6,1528.7 932.6,1558.5 935.6,1568.4 938.6,1570.4 941.5,1588.3 943.5,1628 945.5,1659.8 948.5,1677.6 951.5,1697.5 954.5,1707.4 957.4,1709.4 959.9,1685.6 968.8,1614.1" fill="none" stroke="#006955" stroke-width="3.5" stroke-linejoin="round" stroke-linecap="round"/>
<polyline points="1211.5,1500.9 1214.5,1461.2 1217.4,1453.3 1219.4,1455.2 1222.4,1447.3 1227.4,1445.3 1230.4,1453.3 1232.3,1469.1 1234.3,1473.1 1235.3,1498.9 1237.3,1489 1240.3,1473.1 1243.3,1465.2 1245.2,1460.2 1248.2,1460.2 1251.2,1454.3 1255.2,1464.2 1258.1,1453.3 1261.1,1443.3 1264.1,1415.5 1267.1,1401.6 1268.7,1390.7 1272,1402.6 1276,1389.7 1278,1413.5 1280,1391.7 1282,1419.5 1285,1423.5 1287.9,1427.4 1290.9,1429.4 1292.9,1433.4 1295.9,1453.3 1298.9,1467.2 1301.8,1471.1 1303.8,1508.9 1306.8,1542.6 1309.8,1548.6 1312.8,1538.6" fill="none" stroke="#2a5109" stroke-width="3.5" stroke-linejoin="round" stroke-linecap="round"/>
<rect x="413.2" y="807" width="1275.4" height="981.5" fill="none" stroke="#000" stroke-width="2.4"/>
<line x1="413.2" y1="1297.3" x2="1688.6" y2="1297.3" stroke="#000" stroke-width="3.0"/>
<rect x="1479.8" y="808.5" width="206.8" height="136" fill="#fff" stroke="#8a8a8a" stroke-width="1.2"/>
<line x1="1482.8" y1="826.8" x2="1546.3" y2="826.8" stroke="#ff0000" stroke-width="3.6"/>
<text x="1552" y="836.1" font-size="27.2" text-anchor="start" fill="#111" font-weight="normal">MI</text>
<line x1="1482.8" y1="859.8" x2="1546.3" y2="859.8" stroke="#4a7a00" stroke-width="3.6"/>
<text x="1552" y="869.1" font-size="27.2" text-anchor="start" fill="#111" font-weight="normal">Shapelet-37</text>
<line x1="1482.8" y1="892.8" x2="1546.3" y2="892.8" stroke="#2a5109" stroke-width="3.6"/>
<text x="1552" y="902.1" font-size="27.2" text-anchor="start" fill="#111" font-weight="normal">Shapelet-40</text>
<line x1="1482.8" y1="925.8" x2="1546.3" y2="925.8" stroke="#006955" stroke-width="3.6"/>
<text x="1552" y="935.1" font-size="27.2" text-anchor="start" fill="#111" font-weight="normal">Shapelet-52</text>
<rect x="1479.8" y="1299" width="206.8" height="136.7" fill="#fff" stroke="#8a8a8a" stroke-width="1.2"/>
<line x1="1482.8" y1="1317.3" x2="1546.3" y2="1317.3" stroke="#0000ff" stroke-width="3.6"/>
<text x="1552" y="1326.6" font-size="27.2" text-anchor="start" fill="#111" font-weight="normal">HC</text>
<line x1="1482.8" y1="1350.3" x2="1546.3" y2="1350.3" stroke="#4a7a00" stroke-width="3.6"/>
<text x="1552" y="1359.6" font-size="27.2" text-anchor="start" fill="#111" font-weight="normal">Shapelet-37</text>
<line x1="1482.8" y1="1383.3" x2="1546.3" y2="1383.3" stroke="#2a5109" stroke-width="3.6"/>
<text x="1552" y="1392.6" font-size="27.2" text-anchor="start" fill="#111" font-weight="normal">Shapelet-40</text>
<line x1="1482.8" y1="1416.3" x2="1546.3" y2="1416.3" stroke="#006955" stroke-width="3.6"/>
<text x="1552" y="1425.6" font-size="27.2" text-anchor="start" fill="#111" font-weight="normal">Shapelet-52</text>
<text x="1052" y="1904.5" font-size="45" text-anchor="middle" fill="#000" font-weight="bold">(b)</text>
</svg>
</body></html>
